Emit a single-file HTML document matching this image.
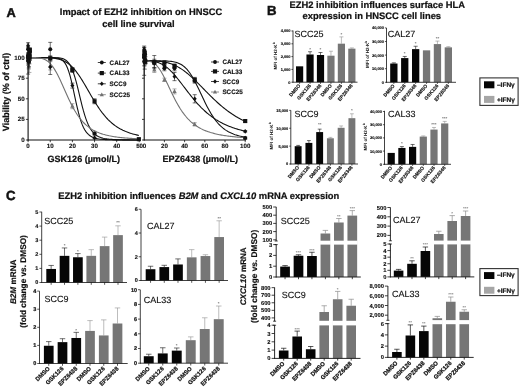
<!DOCTYPE html>
<html><head><meta charset="utf-8"><title>Figure</title>
<style>
html,body{margin:0;padding:0;background:#fff;}
body{width:520px;height:389px;overflow:hidden;}
svg{display:block;font-family:"Liberation Sans",Arial,sans-serif;text-rendering:geometricPrecision;}
</style></head><body>
<svg width="520" height="389" viewBox="0 0 520 389">
<rect width="520" height="389" fill="#fff"/>
<text x="6.60" y="17.30" font-size="12.8" text-anchor="start" font-weight="bold" fill="#111" stroke="#111" stroke-width="0.5">A</text>
<text x="59.80" y="15.30" font-size="9.35" text-anchor="start" font-weight="bold" fill="#111" stroke="#111" stroke-width="0.22">Impact of EZH2 inhibition on HNSCC</text>
<text x="102.30" y="26.60" font-size="9.35" text-anchor="start" font-weight="bold" fill="#111" stroke="#111" stroke-width="0.22">cell line survival</text>
<text transform="translate(9.40,92.00) rotate(-90)" font-size="9.0" text-anchor="middle" font-weight="bold" fill="#111" stroke="#111" stroke-width="0.22">Viability (% of ctrl)</text>
<polyline points="28.10,57.60 29.33,57.60 30.56,57.60 31.79,57.60 33.02,57.60 34.25,57.60 35.48,57.60 36.71,57.60 37.94,57.60 39.17,57.60 40.41,57.60 41.64,57.60 42.87,57.60 44.10,57.60 45.33,57.60 46.56,57.60 47.79,57.60 49.02,57.61 50.25,57.61 51.48,57.62 52.71,57.63 53.94,57.65 55.17,57.68 56.40,57.73 57.63,57.80 58.86,57.91 60.09,58.07 61.32,58.30 62.56,58.62 63.79,59.07 65.02,59.68 66.25,60.51 67.48,61.60 68.71,63.03 69.94,64.85 71.17,67.13 72.40,69.93 73.63,73.25 74.86,77.11 76.09,81.46 77.32,86.20 78.55,91.22 79.78,96.34 81.01,101.43 82.24,106.32 83.47,110.90 84.71,115.08 85.94,118.82 87.17,122.11 88.40,124.96 89.63,127.39 90.86,129.46 92.09,131.19 93.32,132.65 94.55,133.86 95.78,134.87 97.01,135.71 98.24,136.40 99.47,136.98 100.70,137.46 101.93,137.86 103.16,138.20 104.39,138.47 105.62,138.71 106.86,138.90 108.09,139.06 109.32,139.20 110.55,139.32 111.78,139.41 113.01,139.50 114.24,139.57 115.47,139.63 116.70,139.68 117.93,139.72 119.16,139.76 120.39,139.79 121.62,139.82 122.85,139.84 124.08,139.86 125.31,139.88 126.54,139.89 127.78,139.91 129.01,139.92 130.24,139.93 131.47,139.94 132.70,139.94 133.93,139.95 135.16,139.96 136.39,139.96 137.62,139.97 138.85,139.97" fill="none" stroke="#111" stroke-width="1.1"/>
<polyline points="28.10,57.60 29.33,57.60 30.56,57.60 31.79,57.60 33.02,57.60 34.25,57.60 35.48,57.60 36.71,57.60 37.94,57.60 39.17,57.61 40.41,57.61 41.64,57.62 42.87,57.63 44.10,57.65 45.33,57.67 46.56,57.71 47.79,57.75 49.02,57.80 50.25,57.88 51.48,57.97 52.71,58.08 53.94,58.22 55.17,58.39 56.40,58.60 57.63,58.85 58.86,59.15 60.09,59.50 61.32,59.90 62.56,60.38 63.79,60.92 65.02,61.54 66.25,62.25 67.48,63.05 68.71,63.94 69.94,64.93 71.17,66.02 72.40,67.22 73.63,68.52 74.86,69.93 76.09,71.45 77.32,73.06 78.55,74.77 79.78,76.57 81.01,78.46 82.24,80.41 83.47,82.43 84.71,84.49 85.94,86.60 87.17,88.73 88.40,90.87 89.63,93.01 90.86,95.15 92.09,97.26 93.32,99.34 94.55,101.37 95.78,103.36 97.01,105.29 98.24,107.16 99.47,108.97 100.70,110.70 101.93,112.36 103.16,113.94 104.39,115.45 105.62,116.89 106.86,118.25 108.09,119.54 109.32,120.76 110.55,121.91 111.78,122.99 113.01,124.02 114.24,124.97 115.47,125.88 116.70,126.72 117.93,127.52 119.16,128.26 120.39,128.96 121.62,129.61 122.85,130.23 124.08,130.80 125.31,131.34 126.54,131.84 127.78,132.31 129.01,132.75 130.24,133.17 131.47,133.56 132.70,133.92 133.93,134.26 135.16,134.58 136.39,134.88 137.62,135.16 138.85,135.42" fill="none" stroke="#111" stroke-width="1.1"/>
<polyline points="28.10,57.60 29.33,57.60 30.56,57.60 31.79,57.60 33.02,57.60 34.25,57.60 35.48,57.60 36.71,57.60 37.94,57.60 39.17,57.60 40.41,57.60 41.64,57.60 42.87,57.60 44.10,57.60 45.33,57.60 46.56,57.60 47.79,57.61 49.02,57.61 50.25,57.63 51.48,57.65 52.71,57.68 53.94,57.73 55.17,57.82 56.40,57.95 57.63,58.14 58.86,58.44 60.09,58.87 61.32,59.49 62.56,60.36 63.79,61.55 65.02,63.17 66.25,65.29 67.48,68.01 68.71,71.39 69.94,75.45 71.17,80.16 72.40,85.42 73.63,91.05 74.86,96.84 76.09,102.55 77.32,107.99 78.55,112.98 79.78,117.44 81.01,121.32 82.24,124.64 83.47,127.42 84.71,129.73 85.94,131.62 87.17,133.17 88.40,134.43 89.63,135.46 90.86,136.28 92.09,136.96 93.32,137.50 94.55,137.94 95.78,138.30 97.01,138.59 98.24,138.83 99.47,139.03 100.70,139.19 101.93,139.32 103.16,139.43 104.39,139.52 105.62,139.60 106.86,139.66 108.09,139.71 109.32,139.75 110.55,139.79 111.78,139.82 113.01,139.85 114.24,139.87 115.47,139.89 116.70,139.90 117.93,139.92 119.16,139.93 120.39,139.94 121.62,139.95 122.85,139.95 124.08,139.96 125.31,139.96 126.54,139.97 127.78,139.97 129.01,139.98 130.24,139.98 131.47,139.98 132.70,139.98 133.93,139.99 135.16,139.99 136.39,139.99 137.62,139.99 138.85,139.99" fill="none" stroke="#111" stroke-width="1.1"/>
<polyline points="28.10,57.60 29.33,57.60 30.56,57.60 31.79,57.60 33.02,57.61 34.25,57.63 35.48,57.66 36.71,57.72 37.94,57.82 39.17,57.95 40.41,58.15 41.64,58.41 42.87,58.77 44.10,59.23 45.33,59.81 46.56,60.52 47.79,61.39 49.02,62.42 50.25,63.63 51.48,65.03 52.71,66.62 53.94,68.41 55.17,70.38 56.40,72.53 57.63,74.84 58.86,77.29 60.09,79.86 61.32,82.53 62.56,85.26 63.79,88.03 65.02,90.81 66.25,93.58 67.48,96.30 68.71,98.96 69.94,101.54 71.17,104.02 72.40,106.40 73.63,108.66 74.86,110.81 76.09,112.83 77.32,114.73 78.55,116.51 79.78,118.17 81.01,119.72 82.24,121.16 83.47,122.50 84.71,123.73 85.94,124.88 87.17,125.94 88.40,126.92 89.63,127.83 90.86,128.67 92.09,129.44 93.32,130.16 94.55,130.82 95.78,131.43 97.01,131.99 98.24,132.51 99.47,133.00 100.70,133.44 101.93,133.86 103.16,134.24 104.39,134.59 105.62,134.92 106.86,135.23 108.09,135.51 109.32,135.78 110.55,136.02 111.78,136.25 113.01,136.47 114.24,136.67 115.47,136.85 116.70,137.02 117.93,137.19 119.16,137.34 120.39,137.48 121.62,137.61 122.85,137.74 124.08,137.85 125.31,137.96 126.54,138.06 127.78,138.16 129.01,138.25 130.24,138.34 131.47,138.42 132.70,138.49 133.93,138.56 135.16,138.63 136.39,138.69 137.62,138.75 138.85,138.81" fill="none" stroke="#727272" stroke-width="1.1"/>
<line x1="28.10" y1="55.13" x2="28.10" y2="63.37" stroke="#727272" stroke-width="0.6"/>
<line x1="26.10" y1="55.13" x2="30.10" y2="55.13" stroke="#727272" stroke-width="0.6"/>
<line x1="26.10" y1="63.37" x2="30.10" y2="63.37" stroke="#727272" stroke-width="0.6"/>
<polygon points="28.10,56.85 30.30,60.85 25.90,60.85" fill="#727272"/>
<line x1="29.43" y1="52.66" x2="29.43" y2="72.43" stroke="#727272" stroke-width="0.6"/>
<line x1="27.43" y1="52.66" x2="31.43" y2="52.66" stroke="#727272" stroke-width="0.6"/>
<line x1="27.43" y1="72.43" x2="31.43" y2="72.43" stroke="#727272" stroke-width="0.6"/>
<polygon points="29.43,60.14 31.63,64.14 27.23,64.14" fill="#727272"/>
<line x1="28.76" y1="54.30" x2="28.76" y2="69.14" stroke="#727272" stroke-width="0.6"/>
<line x1="26.76" y1="54.30" x2="30.76" y2="54.30" stroke="#727272" stroke-width="0.6"/>
<line x1="26.76" y1="69.14" x2="30.76" y2="69.14" stroke="#727272" stroke-width="0.6"/>
<polygon points="28.76,59.32 30.96,63.32 26.56,63.32" fill="#727272"/>
<line x1="50.25" y1="61.72" x2="50.25" y2="69.96" stroke="#727272" stroke-width="0.6"/>
<line x1="48.25" y1="61.72" x2="52.25" y2="61.72" stroke="#727272" stroke-width="0.6"/>
<line x1="48.25" y1="69.96" x2="52.25" y2="69.96" stroke="#727272" stroke-width="0.6"/>
<polygon points="50.25,63.44 52.45,67.44 48.05,67.44" fill="#727272"/>
<line x1="72.40" y1="103.74" x2="72.40" y2="108.69" stroke="#727272" stroke-width="0.6"/>
<line x1="70.40" y1="103.74" x2="74.40" y2="103.74" stroke="#727272" stroke-width="0.6"/>
<line x1="70.40" y1="108.69" x2="74.40" y2="108.69" stroke="#727272" stroke-width="0.6"/>
<polygon points="72.40,103.82 74.60,107.82 70.20,107.82" fill="#727272"/>
<line x1="94.55" y1="131.35" x2="94.55" y2="133.82" stroke="#727272" stroke-width="0.6"/>
<line x1="92.55" y1="131.35" x2="96.55" y2="131.35" stroke="#727272" stroke-width="0.6"/>
<line x1="92.55" y1="133.82" x2="96.55" y2="133.82" stroke="#727272" stroke-width="0.6"/>
<polygon points="94.55,130.18 96.75,134.18 92.35,134.18" fill="#727272"/>
<line x1="28.10" y1="45.24" x2="28.10" y2="53.48" stroke="#111" stroke-width="0.6"/>
<line x1="26.10" y1="45.24" x2="30.10" y2="45.24" stroke="#111" stroke-width="0.6"/>
<line x1="26.10" y1="53.48" x2="30.10" y2="53.48" stroke="#111" stroke-width="0.6"/>
<circle cx="28.10" cy="49.36" r="2.00" fill="#111"/>
<line x1="29.87" y1="48.54" x2="29.87" y2="55.13" stroke="#111" stroke-width="0.6"/>
<line x1="27.87" y1="48.54" x2="31.87" y2="48.54" stroke="#111" stroke-width="0.6"/>
<line x1="27.87" y1="55.13" x2="31.87" y2="55.13" stroke="#111" stroke-width="0.6"/>
<circle cx="29.87" cy="51.83" r="2.00" fill="#111"/>
<line x1="28.10" y1="52.66" x2="28.10" y2="57.60" stroke="#111" stroke-width="0.6"/>
<line x1="26.10" y1="52.66" x2="30.10" y2="52.66" stroke="#111" stroke-width="0.6"/>
<line x1="26.10" y1="57.60" x2="30.10" y2="57.60" stroke="#111" stroke-width="0.6"/>
<circle cx="28.10" cy="55.13" r="2.00" fill="#111"/>
<line x1="29.87" y1="55.54" x2="29.87" y2="60.48" stroke="#111" stroke-width="0.6"/>
<line x1="27.87" y1="55.54" x2="31.87" y2="55.54" stroke="#111" stroke-width="0.6"/>
<line x1="27.87" y1="60.48" x2="31.87" y2="60.48" stroke="#111" stroke-width="0.6"/>
<circle cx="29.87" cy="58.01" r="2.00" fill="#111"/>
<line x1="28.10" y1="56.78" x2="28.10" y2="65.02" stroke="#111" stroke-width="0.6"/>
<line x1="26.10" y1="56.78" x2="30.10" y2="56.78" stroke="#111" stroke-width="0.6"/>
<line x1="26.10" y1="65.02" x2="30.10" y2="65.02" stroke="#111" stroke-width="0.6"/>
<circle cx="28.10" cy="60.90" r="2.00" fill="#111"/>
<line x1="28.99" y1="56.78" x2="28.99" y2="66.66" stroke="#111" stroke-width="0.6"/>
<line x1="26.99" y1="56.78" x2="30.99" y2="56.78" stroke="#111" stroke-width="0.6"/>
<line x1="26.99" y1="66.66" x2="30.99" y2="66.66" stroke="#111" stroke-width="0.6"/>
<circle cx="28.99" cy="61.72" r="2.00" fill="#111"/>
<line x1="50.25" y1="42.36" x2="50.25" y2="56.36" stroke="#111" stroke-width="0.6"/>
<line x1="48.25" y1="42.36" x2="52.25" y2="42.36" stroke="#111" stroke-width="0.6"/>
<line x1="48.25" y1="56.36" x2="52.25" y2="56.36" stroke="#111" stroke-width="0.6"/>
<circle cx="50.25" cy="49.36" r="2.00" fill="#111"/>
<line x1="72.40" y1="67.49" x2="72.40" y2="72.43" stroke="#111" stroke-width="0.6"/>
<line x1="70.40" y1="67.49" x2="74.40" y2="67.49" stroke="#111" stroke-width="0.6"/>
<line x1="70.40" y1="72.43" x2="74.40" y2="72.43" stroke="#111" stroke-width="0.6"/>
<circle cx="72.40" cy="69.96" r="2.00" fill="#111"/>
<line x1="94.55" y1="132.58" x2="94.55" y2="135.06" stroke="#111" stroke-width="0.6"/>
<line x1="92.55" y1="132.58" x2="96.55" y2="132.58" stroke="#111" stroke-width="0.6"/>
<line x1="92.55" y1="135.06" x2="96.55" y2="135.06" stroke="#111" stroke-width="0.6"/>
<circle cx="94.55" cy="133.82" r="2.00" fill="#111"/>
<line x1="29.87" y1="47.71" x2="29.87" y2="52.66" stroke="#111" stroke-width="0.6"/>
<line x1="27.87" y1="47.71" x2="31.87" y2="47.71" stroke="#111" stroke-width="0.6"/>
<line x1="27.87" y1="52.66" x2="31.87" y2="52.66" stroke="#111" stroke-width="0.6"/>
<rect x="27.82" y="48.13" width="4.10" height="4.10" fill="#111"/>
<line x1="28.10" y1="55.13" x2="28.10" y2="60.07" stroke="#111" stroke-width="0.6"/>
<line x1="26.10" y1="55.13" x2="30.10" y2="55.13" stroke="#111" stroke-width="0.6"/>
<line x1="26.10" y1="60.07" x2="30.10" y2="60.07" stroke="#111" stroke-width="0.6"/>
<rect x="26.05" y="55.55" width="4.10" height="4.10" fill="#111"/>
<line x1="29.43" y1="51.83" x2="29.43" y2="56.78" stroke="#111" stroke-width="0.6"/>
<line x1="27.43" y1="51.83" x2="31.43" y2="51.83" stroke="#111" stroke-width="0.6"/>
<line x1="27.43" y1="56.78" x2="31.43" y2="56.78" stroke="#111" stroke-width="0.6"/>
<rect x="27.38" y="52.25" width="4.10" height="4.10" fill="#111"/>
<line x1="50.25" y1="55.95" x2="50.25" y2="60.90" stroke="#111" stroke-width="0.6"/>
<line x1="48.25" y1="55.95" x2="52.25" y2="55.95" stroke="#111" stroke-width="0.6"/>
<line x1="48.25" y1="60.90" x2="52.25" y2="60.90" stroke="#111" stroke-width="0.6"/>
<rect x="48.20" y="56.37" width="4.10" height="4.10" fill="#111"/>
<line x1="72.40" y1="68.31" x2="72.40" y2="71.61" stroke="#111" stroke-width="0.6"/>
<line x1="70.40" y1="68.31" x2="74.40" y2="68.31" stroke="#111" stroke-width="0.6"/>
<line x1="70.40" y1="71.61" x2="74.40" y2="71.61" stroke="#111" stroke-width="0.6"/>
<rect x="70.35" y="67.91" width="4.10" height="4.10" fill="#111"/>
<line x1="94.55" y1="98.80" x2="94.55" y2="103.74" stroke="#111" stroke-width="0.6"/>
<line x1="92.55" y1="98.80" x2="96.55" y2="98.80" stroke="#111" stroke-width="0.6"/>
<line x1="92.55" y1="103.74" x2="96.55" y2="103.74" stroke="#111" stroke-width="0.6"/>
<rect x="92.50" y="99.22" width="4.10" height="4.10" fill="#111"/>
<line x1="138.85" y1="138.35" x2="138.85" y2="140.00" stroke="#111" stroke-width="0.6"/>
<line x1="136.85" y1="138.35" x2="140.85" y2="138.35" stroke="#111" stroke-width="0.6"/>
<line x1="136.85" y1="140.00" x2="140.85" y2="140.00" stroke="#111" stroke-width="0.6"/>
<rect x="136.80" y="137.13" width="4.10" height="4.10" fill="#111"/>
<line x1="28.10" y1="42.77" x2="28.10" y2="49.36" stroke="#111" stroke-width="0.6"/>
<line x1="26.10" y1="42.77" x2="30.10" y2="42.77" stroke="#111" stroke-width="0.6"/>
<line x1="26.10" y1="49.36" x2="30.10" y2="49.36" stroke="#111" stroke-width="0.6"/>
<polygon points="28.10,43.66 30.10,46.06 28.10,48.46 26.10,46.06" fill="#111"/>
<line x1="29.87" y1="54.30" x2="29.87" y2="59.25" stroke="#111" stroke-width="0.6"/>
<line x1="27.87" y1="54.30" x2="31.87" y2="54.30" stroke="#111" stroke-width="0.6"/>
<line x1="27.87" y1="59.25" x2="31.87" y2="59.25" stroke="#111" stroke-width="0.6"/>
<polygon points="29.87,54.38 31.87,56.78 29.87,59.18 27.87,56.78" fill="#111"/>
<line x1="28.76" y1="54.72" x2="28.76" y2="67.90" stroke="#111" stroke-width="0.6"/>
<line x1="26.76" y1="54.72" x2="30.76" y2="54.72" stroke="#111" stroke-width="0.6"/>
<line x1="26.76" y1="67.90" x2="30.76" y2="67.90" stroke="#111" stroke-width="0.6"/>
<polygon points="28.76,58.91 30.76,61.31 28.76,63.71 26.76,61.31" fill="#111"/>
<line x1="28.10" y1="47.71" x2="28.10" y2="74.08" stroke="#111" stroke-width="0.6"/>
<line x1="26.10" y1="47.71" x2="30.10" y2="47.71" stroke="#111" stroke-width="0.6"/>
<line x1="26.10" y1="74.08" x2="30.10" y2="74.08" stroke="#111" stroke-width="0.6"/>
<polygon points="28.10,58.50 30.10,60.90 28.10,63.30 26.10,60.90" fill="#111"/>
<line x1="50.25" y1="59.66" x2="50.25" y2="74.49" stroke="#111" stroke-width="0.6"/>
<line x1="48.25" y1="59.66" x2="52.25" y2="59.66" stroke="#111" stroke-width="0.6"/>
<line x1="48.25" y1="74.49" x2="52.25" y2="74.49" stroke="#111" stroke-width="0.6"/>
<polygon points="50.25,64.68 52.25,67.08 50.25,69.48 48.25,67.08" fill="#111"/>
<line x1="72.40" y1="83.14" x2="72.40" y2="88.09" stroke="#111" stroke-width="0.6"/>
<line x1="70.40" y1="83.14" x2="74.40" y2="83.14" stroke="#111" stroke-width="0.6"/>
<line x1="70.40" y1="88.09" x2="74.40" y2="88.09" stroke="#111" stroke-width="0.6"/>
<polygon points="72.40,83.22 74.40,85.62 72.40,88.02 70.40,85.62" fill="#111"/>
<line x1="94.55" y1="137.12" x2="94.55" y2="138.76" stroke="#111" stroke-width="0.6"/>
<line x1="92.55" y1="137.12" x2="96.55" y2="137.12" stroke="#111" stroke-width="0.6"/>
<line x1="92.55" y1="138.76" x2="96.55" y2="138.76" stroke="#111" stroke-width="0.6"/>
<polygon points="94.55,135.54 96.55,137.94 94.55,140.34 92.55,137.94" fill="#111"/>
<line x1="28.10" y1="42.50" x2="28.10" y2="140.50" stroke="#111" stroke-width="1.1"/>
<line x1="27.60" y1="140.00" x2="140.00" y2="140.00" stroke="#111" stroke-width="1.1"/>
<line x1="25.90" y1="140.00" x2="28.10" y2="140.00" stroke="#111" stroke-width="0.8"/>
<text x="24.60" y="142.00" font-size="6.2" text-anchor="end" font-weight="bold" fill="#111" stroke="#111" stroke-width="0.12">0</text>
<line x1="25.90" y1="119.40" x2="28.10" y2="119.40" stroke="#111" stroke-width="0.8"/>
<text x="24.60" y="121.40" font-size="6.2" text-anchor="end" font-weight="bold" fill="#111" stroke="#111" stroke-width="0.12">25</text>
<line x1="25.90" y1="98.80" x2="28.10" y2="98.80" stroke="#111" stroke-width="0.8"/>
<text x="24.60" y="100.80" font-size="6.2" text-anchor="end" font-weight="bold" fill="#111" stroke="#111" stroke-width="0.12">50</text>
<line x1="25.90" y1="78.20" x2="28.10" y2="78.20" stroke="#111" stroke-width="0.8"/>
<text x="24.60" y="80.20" font-size="6.2" text-anchor="end" font-weight="bold" fill="#111" stroke="#111" stroke-width="0.12">75</text>
<line x1="25.90" y1="57.60" x2="28.10" y2="57.60" stroke="#111" stroke-width="0.8"/>
<text x="24.60" y="59.60" font-size="6.2" text-anchor="end" font-weight="bold" fill="#111" stroke="#111" stroke-width="0.12">100</text>
<line x1="28.10" y1="140.00" x2="28.10" y2="142.20" stroke="#111" stroke-width="0.8"/>
<text x="28.10" y="148.30" font-size="6.2" text-anchor="middle" font-weight="bold" fill="#111" stroke="#111" stroke-width="0.12">0</text>
<line x1="50.25" y1="140.00" x2="50.25" y2="142.20" stroke="#111" stroke-width="0.8"/>
<text x="50.25" y="148.30" font-size="6.2" text-anchor="middle" font-weight="bold" fill="#111" stroke="#111" stroke-width="0.12">10</text>
<line x1="72.40" y1="140.00" x2="72.40" y2="142.20" stroke="#111" stroke-width="0.8"/>
<text x="72.40" y="148.30" font-size="6.2" text-anchor="middle" font-weight="bold" fill="#111" stroke="#111" stroke-width="0.12">20</text>
<line x1="94.55" y1="140.00" x2="94.55" y2="142.20" stroke="#111" stroke-width="0.8"/>
<text x="94.55" y="148.30" font-size="6.2" text-anchor="middle" font-weight="bold" fill="#111" stroke="#111" stroke-width="0.12">30</text>
<line x1="116.70" y1="140.00" x2="116.70" y2="142.20" stroke="#111" stroke-width="0.8"/>
<text x="116.70" y="148.30" font-size="6.2" text-anchor="middle" font-weight="bold" fill="#111" stroke="#111" stroke-width="0.12">40</text>
<text x="139.60" y="148.30" font-size="6.2" text-anchor="middle" font-weight="bold" fill="#111" stroke="#111" stroke-width="0.12">50</text>
<line x1="139.20" y1="140.00" x2="139.20" y2="142.20" stroke="#111" stroke-width="0.8"/>
<text x="83.75" y="161.80" font-size="9.04" text-anchor="middle" font-weight="bold" fill="#111" stroke="#111" stroke-width="0.22">GSK126 (µmol/L)</text>
<polyline points="144.20,60.90 145.32,60.90 146.44,60.90 147.57,60.90 148.69,60.90 149.81,60.90 150.93,60.90 152.06,60.90 153.18,60.90 154.30,60.90 155.42,60.90 156.54,60.90 157.67,60.90 158.79,60.91 159.91,60.91 161.03,60.92 162.16,60.94 163.28,60.95 164.40,60.98 165.52,61.01 166.64,61.06 167.77,61.12 168.89,61.19 170.01,61.29 171.13,61.41 172.26,61.56 173.38,61.74 174.50,61.96 175.62,62.23 176.74,62.56 177.87,62.94 178.99,63.40 180.11,63.93 181.23,64.55 182.36,65.26 183.48,66.08 184.60,67.01 185.72,68.05 186.84,69.22 187.97,70.52 189.09,71.96 190.21,73.52 191.33,75.22 192.46,77.04 193.58,78.98 194.70,81.03 195.82,83.18 196.94,85.41 198.07,87.71 199.19,90.05 200.31,92.43 201.43,94.83 202.56,97.22 203.68,99.58 204.80,101.91 205.92,104.18 207.04,106.40 208.17,108.53 209.29,110.58 210.41,112.54 211.53,114.41 212.66,116.18 213.78,117.85 214.90,119.42 216.02,120.89 217.14,122.27 218.27,123.56 219.39,124.76 220.51,125.88 221.63,126.91 222.76,127.87 223.88,128.76 225.00,129.58 226.12,130.35 227.24,131.05 228.37,131.70 229.49,132.30 230.61,132.85 231.73,133.36 232.86,133.84 233.98,134.27 235.10,134.67 236.22,135.04 237.34,135.39 238.47,135.70 239.59,136.00 240.71,136.27 241.83,136.52 242.96,136.75 244.08,136.97 245.20,137.16" fill="none" stroke="#111" stroke-width="1.1"/>
<polyline points="144.20,60.90 145.32,60.90 146.44,60.90 147.57,60.90 148.69,60.90 149.81,60.91 150.93,60.92 152.06,60.94 153.18,60.97 154.30,61.01 155.42,61.06 156.54,61.12 157.67,61.19 158.79,61.28 159.91,61.39 161.03,61.52 162.16,61.67 163.28,61.84 164.40,62.04 165.52,62.26 166.64,62.51 167.77,62.79 168.89,63.11 170.01,63.45 171.13,63.83 172.26,64.24 173.38,64.69 174.50,65.18 175.62,65.70 176.74,66.26 177.87,66.86 178.99,67.49 180.11,68.17 181.23,68.88 182.36,69.63 183.48,70.41 184.60,71.24 185.72,72.09 186.84,72.98 187.97,73.90 189.09,74.85 190.21,75.83 191.33,76.84 192.46,77.87 193.58,78.92 194.70,79.99 195.82,81.08 196.94,82.19 198.07,83.31 199.19,84.44 200.31,85.57 201.43,86.72 202.56,87.87 203.68,89.01 204.80,90.16 205.92,91.31 207.04,92.45 208.17,93.58 209.29,94.71 210.41,95.83 211.53,96.93 212.66,98.02 213.78,99.10 214.90,100.16 216.02,101.21 217.14,102.24 218.27,103.25 219.39,104.24 220.51,105.22 221.63,106.17 222.76,107.10 223.88,108.01 225.00,108.90 226.12,109.77 227.24,110.62 228.37,111.45 229.49,112.26 230.61,113.04 231.73,113.81 232.86,114.55 233.98,115.28 235.10,115.98 236.22,116.67 237.34,117.33 238.47,117.97 239.59,118.60 240.71,119.21 241.83,119.80 242.96,120.37 244.08,120.93 245.20,121.46" fill="none" stroke="#111" stroke-width="1.1"/>
<polyline points="144.20,60.90 145.32,60.90 146.44,60.90 147.57,60.92 148.69,60.95 149.81,61.00 150.93,61.08 152.06,61.19 153.18,61.34 154.30,61.52 155.42,61.75 156.54,62.03 157.67,62.37 158.79,62.76 159.91,63.21 161.03,63.72 162.16,64.30 163.28,64.94 164.40,65.65 165.52,66.43 166.64,67.28 167.77,68.19 168.89,69.17 170.01,70.21 171.13,71.32 172.26,72.47 173.38,73.69 174.50,74.95 175.62,76.25 176.74,77.60 177.87,78.98 178.99,80.39 180.11,81.82 181.23,83.27 182.36,84.73 183.48,86.21 184.60,87.68 185.72,89.16 186.84,90.63 187.97,92.09 189.09,93.53 190.21,94.96 191.33,96.37 192.46,97.75 193.58,99.12 194.70,100.45 195.82,101.75 196.94,103.02 198.07,104.27 199.19,105.47 200.31,106.65 201.43,107.79 202.56,108.89 203.68,109.97 204.80,111.00 205.92,112.01 207.04,112.98 208.17,113.91 209.29,114.82 210.41,115.69 211.53,116.53 212.66,117.34 213.78,118.12 214.90,118.87 216.02,119.60 217.14,120.29 218.27,120.96 219.39,121.61 220.51,122.23 221.63,122.82 222.76,123.40 223.88,123.95 225.00,124.48 226.12,124.99 227.24,125.48 228.37,125.95 229.49,126.40 230.61,126.84 231.73,127.26 232.86,127.66 233.98,128.05 235.10,128.42 236.22,128.78 237.34,129.13 238.47,129.46 239.59,129.78 240.71,130.09 241.83,130.38 242.96,130.67 244.08,130.95 245.20,131.21" fill="none" stroke="#111" stroke-width="1.1"/>
<polyline points="144.20,60.90 145.32,60.90 146.44,60.93 147.57,60.99 148.69,61.13 149.81,61.35 150.93,61.68 152.06,62.13 153.18,62.72 154.30,63.47 155.42,64.38 156.54,65.46 157.67,66.73 158.79,68.16 159.91,69.77 161.03,71.54 162.16,73.45 163.28,75.49 164.40,77.64 165.52,79.88 166.64,82.19 167.77,84.54 168.89,86.92 170.01,89.30 171.13,91.66 172.26,93.99 173.38,96.28 174.50,98.50 175.62,100.66 176.74,102.74 177.87,104.74 178.99,106.65 180.11,108.47 181.23,110.20 182.36,111.85 183.48,113.40 184.60,114.87 185.72,116.26 186.84,117.57 187.97,118.80 189.09,119.96 190.21,121.05 191.33,122.07 192.46,123.03 193.58,123.93 194.70,124.78 195.82,125.57 196.94,126.32 198.07,127.02 199.19,127.67 200.31,128.29 201.43,128.87 202.56,129.42 203.68,129.93 204.80,130.41 205.92,130.87 207.04,131.29 208.17,131.70 209.29,132.08 210.41,132.44 211.53,132.77 212.66,133.09 213.78,133.39 214.90,133.68 216.02,133.95 217.14,134.20 218.27,134.44 219.39,134.67 220.51,134.89 221.63,135.09 222.76,135.29 223.88,135.47 225.00,135.65 226.12,135.82 227.24,135.98 228.37,136.13 229.49,136.27 230.61,136.41 231.73,136.54 232.86,136.66 233.98,136.78 235.10,136.89 236.22,137.00 237.34,137.11 238.47,137.20 239.59,137.30 240.71,137.39 241.83,137.47 242.96,137.56 244.08,137.64 245.20,137.71" fill="none" stroke="#727272" stroke-width="1.1"/>
<line x1="144.20" y1="55.95" x2="144.20" y2="65.84" stroke="#727272" stroke-width="0.6"/>
<line x1="142.20" y1="55.95" x2="146.20" y2="55.95" stroke="#727272" stroke-width="0.6"/>
<line x1="142.20" y1="65.84" x2="146.20" y2="65.84" stroke="#727272" stroke-width="0.6"/>
<polygon points="144.20,58.50 146.40,62.50 142.00,62.50" fill="#727272"/>
<line x1="144.91" y1="55.95" x2="144.91" y2="69.14" stroke="#727272" stroke-width="0.6"/>
<line x1="142.91" y1="55.95" x2="146.91" y2="55.95" stroke="#727272" stroke-width="0.6"/>
<line x1="142.91" y1="69.14" x2="146.91" y2="69.14" stroke="#727272" stroke-width="0.6"/>
<polygon points="144.91,60.14 147.11,64.14 142.71,64.14" fill="#727272"/>
<line x1="144.50" y1="54.30" x2="144.50" y2="69.14" stroke="#727272" stroke-width="0.6"/>
<line x1="142.50" y1="54.30" x2="146.50" y2="54.30" stroke="#727272" stroke-width="0.6"/>
<line x1="142.50" y1="69.14" x2="146.50" y2="69.14" stroke="#727272" stroke-width="0.6"/>
<polygon points="144.50,59.32 146.70,63.32 142.30,63.32" fill="#727272"/>
<line x1="154.30" y1="67.49" x2="154.30" y2="72.43" stroke="#727272" stroke-width="0.6"/>
<line x1="152.30" y1="67.49" x2="156.30" y2="67.49" stroke="#727272" stroke-width="0.6"/>
<line x1="152.30" y1="72.43" x2="156.30" y2="72.43" stroke="#727272" stroke-width="0.6"/>
<polygon points="154.30,67.56 156.50,71.56 152.10,71.56" fill="#727272"/>
<line x1="164.40" y1="78.20" x2="164.40" y2="81.50" stroke="#727272" stroke-width="0.6"/>
<line x1="162.40" y1="78.20" x2="166.40" y2="78.20" stroke="#727272" stroke-width="0.6"/>
<line x1="162.40" y1="81.50" x2="166.40" y2="81.50" stroke="#727272" stroke-width="0.6"/>
<polygon points="164.40,77.45 166.60,81.45 162.20,81.45" fill="#727272"/>
<line x1="174.50" y1="88.91" x2="174.50" y2="93.86" stroke="#727272" stroke-width="0.6"/>
<line x1="172.50" y1="88.91" x2="176.50" y2="88.91" stroke="#727272" stroke-width="0.6"/>
<line x1="172.50" y1="93.86" x2="176.50" y2="93.86" stroke="#727272" stroke-width="0.6"/>
<polygon points="174.50,88.98 176.70,92.98 172.30,92.98" fill="#727272"/>
<line x1="194.70" y1="122.70" x2="194.70" y2="125.99" stroke="#727272" stroke-width="0.6"/>
<line x1="192.70" y1="122.70" x2="196.70" y2="122.70" stroke="#727272" stroke-width="0.6"/>
<line x1="192.70" y1="125.99" x2="196.70" y2="125.99" stroke="#727272" stroke-width="0.6"/>
<polygon points="194.70,121.94 196.90,125.94 192.50,125.94" fill="#727272"/>
<line x1="245.20" y1="137.12" x2="245.20" y2="138.76" stroke="#727272" stroke-width="0.6"/>
<line x1="243.20" y1="137.12" x2="247.20" y2="137.12" stroke="#727272" stroke-width="0.6"/>
<line x1="243.20" y1="138.76" x2="247.20" y2="138.76" stroke="#727272" stroke-width="0.6"/>
<polygon points="245.20,135.54 247.40,139.54 243.00,139.54" fill="#727272"/>
<line x1="144.20" y1="47.71" x2="144.20" y2="54.30" stroke="#111" stroke-width="0.6"/>
<line x1="142.20" y1="47.71" x2="146.20" y2="47.71" stroke="#111" stroke-width="0.6"/>
<line x1="142.20" y1="54.30" x2="146.20" y2="54.30" stroke="#111" stroke-width="0.6"/>
<circle cx="144.20" cy="51.01" r="2.00" fill="#111"/>
<line x1="145.01" y1="51.83" x2="145.01" y2="56.78" stroke="#111" stroke-width="0.6"/>
<line x1="143.01" y1="51.83" x2="147.01" y2="51.83" stroke="#111" stroke-width="0.6"/>
<line x1="143.01" y1="56.78" x2="147.01" y2="56.78" stroke="#111" stroke-width="0.6"/>
<circle cx="145.01" cy="54.30" r="2.00" fill="#111"/>
<line x1="144.20" y1="55.13" x2="144.20" y2="60.07" stroke="#111" stroke-width="0.6"/>
<line x1="142.20" y1="55.13" x2="146.20" y2="55.13" stroke="#111" stroke-width="0.6"/>
<line x1="142.20" y1="60.07" x2="146.20" y2="60.07" stroke="#111" stroke-width="0.6"/>
<circle cx="144.20" cy="57.60" r="2.00" fill="#111"/>
<line x1="145.41" y1="56.78" x2="145.41" y2="63.37" stroke="#111" stroke-width="0.6"/>
<line x1="143.41" y1="56.78" x2="147.41" y2="56.78" stroke="#111" stroke-width="0.6"/>
<line x1="143.41" y1="63.37" x2="147.41" y2="63.37" stroke="#111" stroke-width="0.6"/>
<circle cx="145.41" cy="60.07" r="2.00" fill="#111"/>
<line x1="144.50" y1="57.60" x2="144.50" y2="65.84" stroke="#111" stroke-width="0.6"/>
<line x1="142.50" y1="57.60" x2="146.50" y2="57.60" stroke="#111" stroke-width="0.6"/>
<line x1="142.50" y1="65.84" x2="146.50" y2="65.84" stroke="#111" stroke-width="0.6"/>
<circle cx="144.50" cy="61.72" r="2.00" fill="#111"/>
<line x1="154.30" y1="55.54" x2="154.30" y2="68.72" stroke="#111" stroke-width="0.6"/>
<line x1="152.30" y1="55.54" x2="156.30" y2="55.54" stroke="#111" stroke-width="0.6"/>
<line x1="152.30" y1="68.72" x2="156.30" y2="68.72" stroke="#111" stroke-width="0.6"/>
<circle cx="154.30" cy="62.13" r="2.00" fill="#111"/>
<line x1="164.40" y1="65.84" x2="164.40" y2="70.78" stroke="#111" stroke-width="0.6"/>
<line x1="162.40" y1="65.84" x2="166.40" y2="65.84" stroke="#111" stroke-width="0.6"/>
<line x1="162.40" y1="70.78" x2="166.40" y2="70.78" stroke="#111" stroke-width="0.6"/>
<circle cx="164.40" cy="68.31" r="2.00" fill="#111"/>
<line x1="174.50" y1="65.84" x2="174.50" y2="70.78" stroke="#111" stroke-width="0.6"/>
<line x1="172.50" y1="65.84" x2="176.50" y2="65.84" stroke="#111" stroke-width="0.6"/>
<line x1="172.50" y1="70.78" x2="176.50" y2="70.78" stroke="#111" stroke-width="0.6"/>
<circle cx="174.50" cy="68.31" r="2.00" fill="#111"/>
<line x1="194.70" y1="78.20" x2="194.70" y2="83.14" stroke="#111" stroke-width="0.6"/>
<line x1="192.70" y1="78.20" x2="196.70" y2="78.20" stroke="#111" stroke-width="0.6"/>
<line x1="192.70" y1="83.14" x2="196.70" y2="83.14" stroke="#111" stroke-width="0.6"/>
<circle cx="194.70" cy="80.67" r="2.00" fill="#111"/>
<line x1="245.20" y1="137.12" x2="245.20" y2="138.76" stroke="#111" stroke-width="0.6"/>
<line x1="243.20" y1="137.12" x2="247.20" y2="137.12" stroke="#111" stroke-width="0.6"/>
<line x1="243.20" y1="138.76" x2="247.20" y2="138.76" stroke="#111" stroke-width="0.6"/>
<circle cx="245.20" cy="137.94" r="2.00" fill="#111"/>
<line x1="144.70" y1="50.18" x2="144.70" y2="55.13" stroke="#111" stroke-width="0.6"/>
<line x1="142.70" y1="50.18" x2="146.70" y2="50.18" stroke="#111" stroke-width="0.6"/>
<line x1="142.70" y1="55.13" x2="146.70" y2="55.13" stroke="#111" stroke-width="0.6"/>
<rect x="142.65" y="50.61" width="4.10" height="4.10" fill="#111"/>
<line x1="144.20" y1="53.48" x2="144.20" y2="58.42" stroke="#111" stroke-width="0.6"/>
<line x1="142.20" y1="53.48" x2="146.20" y2="53.48" stroke="#111" stroke-width="0.6"/>
<line x1="142.20" y1="58.42" x2="146.20" y2="58.42" stroke="#111" stroke-width="0.6"/>
<rect x="142.15" y="53.90" width="4.10" height="4.10" fill="#111"/>
<line x1="145.21" y1="59.25" x2="145.21" y2="64.19" stroke="#111" stroke-width="0.6"/>
<line x1="143.21" y1="59.25" x2="147.21" y2="59.25" stroke="#111" stroke-width="0.6"/>
<line x1="143.21" y1="64.19" x2="147.21" y2="64.19" stroke="#111" stroke-width="0.6"/>
<rect x="143.16" y="59.67" width="4.10" height="4.10" fill="#111"/>
<line x1="154.30" y1="60.90" x2="154.30" y2="64.19" stroke="#111" stroke-width="0.6"/>
<line x1="152.30" y1="60.90" x2="156.30" y2="60.90" stroke="#111" stroke-width="0.6"/>
<line x1="152.30" y1="64.19" x2="156.30" y2="64.19" stroke="#111" stroke-width="0.6"/>
<rect x="152.25" y="60.49" width="4.10" height="4.10" fill="#111"/>
<line x1="164.40" y1="60.90" x2="164.40" y2="64.19" stroke="#111" stroke-width="0.6"/>
<line x1="162.40" y1="60.90" x2="166.40" y2="60.90" stroke="#111" stroke-width="0.6"/>
<line x1="162.40" y1="64.19" x2="166.40" y2="64.19" stroke="#111" stroke-width="0.6"/>
<rect x="162.35" y="60.49" width="4.10" height="4.10" fill="#111"/>
<line x1="174.50" y1="64.19" x2="174.50" y2="67.49" stroke="#111" stroke-width="0.6"/>
<line x1="172.50" y1="64.19" x2="176.50" y2="64.19" stroke="#111" stroke-width="0.6"/>
<line x1="172.50" y1="67.49" x2="176.50" y2="67.49" stroke="#111" stroke-width="0.6"/>
<rect x="172.45" y="63.79" width="4.10" height="4.10" fill="#111"/>
<line x1="194.70" y1="77.38" x2="194.70" y2="82.32" stroke="#111" stroke-width="0.6"/>
<line x1="192.70" y1="77.38" x2="196.70" y2="77.38" stroke="#111" stroke-width="0.6"/>
<line x1="192.70" y1="82.32" x2="196.70" y2="82.32" stroke="#111" stroke-width="0.6"/>
<rect x="192.65" y="77.80" width="4.10" height="4.10" fill="#111"/>
<line x1="245.20" y1="119.81" x2="245.20" y2="122.28" stroke="#111" stroke-width="0.6"/>
<line x1="243.20" y1="119.81" x2="247.20" y2="119.81" stroke="#111" stroke-width="0.6"/>
<line x1="243.20" y1="122.28" x2="247.20" y2="122.28" stroke="#111" stroke-width="0.6"/>
<rect x="243.15" y="119.00" width="4.10" height="4.10" fill="#111"/>
<line x1="144.20" y1="46.06" x2="144.20" y2="52.66" stroke="#111" stroke-width="0.6"/>
<line x1="142.20" y1="46.06" x2="146.20" y2="46.06" stroke="#111" stroke-width="0.6"/>
<line x1="142.20" y1="52.66" x2="146.20" y2="52.66" stroke="#111" stroke-width="0.6"/>
<polygon points="144.20,46.96 146.20,49.36 144.20,51.76 142.20,49.36" fill="#111"/>
<line x1="144.81" y1="55.95" x2="144.81" y2="60.90" stroke="#111" stroke-width="0.6"/>
<line x1="142.81" y1="55.95" x2="146.81" y2="55.95" stroke="#111" stroke-width="0.6"/>
<line x1="142.81" y1="60.90" x2="146.81" y2="60.90" stroke="#111" stroke-width="0.6"/>
<polygon points="144.81,56.02 146.81,58.42 144.81,60.82 142.81,58.42" fill="#111"/>
<line x1="144.20" y1="47.30" x2="144.20" y2="75.32" stroke="#111" stroke-width="0.6"/>
<line x1="142.20" y1="47.30" x2="146.20" y2="47.30" stroke="#111" stroke-width="0.6"/>
<line x1="142.20" y1="75.32" x2="146.20" y2="75.32" stroke="#111" stroke-width="0.6"/>
<polygon points="144.20,58.91 146.20,61.31 144.20,63.71 142.20,61.31" fill="#111"/>
<line x1="154.30" y1="59.25" x2="154.30" y2="67.49" stroke="#111" stroke-width="0.6"/>
<line x1="152.30" y1="59.25" x2="156.30" y2="59.25" stroke="#111" stroke-width="0.6"/>
<line x1="152.30" y1="67.49" x2="156.30" y2="67.49" stroke="#111" stroke-width="0.6"/>
<polygon points="154.30,60.97 156.30,63.37 154.30,65.77 152.30,63.37" fill="#111"/>
<line x1="164.40" y1="63.37" x2="164.40" y2="68.31" stroke="#111" stroke-width="0.6"/>
<line x1="162.40" y1="63.37" x2="166.40" y2="63.37" stroke="#111" stroke-width="0.6"/>
<line x1="162.40" y1="68.31" x2="166.40" y2="68.31" stroke="#111" stroke-width="0.6"/>
<polygon points="164.40,63.44 166.40,65.84 164.40,68.24 162.40,65.84" fill="#111"/>
<line x1="174.50" y1="72.43" x2="174.50" y2="80.67" stroke="#111" stroke-width="0.6"/>
<line x1="172.50" y1="72.43" x2="176.50" y2="72.43" stroke="#111" stroke-width="0.6"/>
<line x1="172.50" y1="80.67" x2="176.50" y2="80.67" stroke="#111" stroke-width="0.6"/>
<polygon points="174.50,74.15 176.50,76.55 174.50,78.95 172.50,76.55" fill="#111"/>
<line x1="194.70" y1="94.68" x2="194.70" y2="102.92" stroke="#111" stroke-width="0.6"/>
<line x1="192.70" y1="94.68" x2="196.70" y2="94.68" stroke="#111" stroke-width="0.6"/>
<line x1="192.70" y1="102.92" x2="196.70" y2="102.92" stroke="#111" stroke-width="0.6"/>
<polygon points="194.70,96.40 196.70,98.80 194.70,101.20 192.70,98.80" fill="#111"/>
<line x1="245.20" y1="130.52" x2="245.20" y2="132.17" stroke="#111" stroke-width="0.6"/>
<line x1="243.20" y1="130.52" x2="247.20" y2="130.52" stroke="#111" stroke-width="0.6"/>
<line x1="243.20" y1="132.17" x2="247.20" y2="132.17" stroke="#111" stroke-width="0.6"/>
<polygon points="245.20,128.95 247.20,131.35 245.20,133.75 243.20,131.35" fill="#111"/>
<line x1="144.20" y1="46.50" x2="144.20" y2="140.50" stroke="#111" stroke-width="1.1"/>
<line x1="143.70" y1="140.00" x2="246.00" y2="140.00" stroke="#111" stroke-width="1.1"/>
<line x1="142.00" y1="140.00" x2="144.20" y2="140.00" stroke="#111" stroke-width="0.8"/>
<line x1="142.00" y1="119.40" x2="144.20" y2="119.40" stroke="#111" stroke-width="0.8"/>
<line x1="142.00" y1="98.80" x2="144.20" y2="98.80" stroke="#111" stroke-width="0.8"/>
<line x1="142.00" y1="78.20" x2="144.20" y2="78.20" stroke="#111" stroke-width="0.8"/>
<line x1="142.00" y1="57.60" x2="144.20" y2="57.60" stroke="#111" stroke-width="0.8"/>
<line x1="164.40" y1="140.00" x2="164.40" y2="142.20" stroke="#111" stroke-width="0.8"/>
<text x="164.40" y="148.30" font-size="6.2" text-anchor="middle" font-weight="bold" fill="#111" stroke="#111" stroke-width="0.12">20</text>
<line x1="184.60" y1="140.00" x2="184.60" y2="142.20" stroke="#111" stroke-width="0.8"/>
<text x="184.60" y="148.30" font-size="6.2" text-anchor="middle" font-weight="bold" fill="#111" stroke="#111" stroke-width="0.12">40</text>
<line x1="204.80" y1="140.00" x2="204.80" y2="142.20" stroke="#111" stroke-width="0.8"/>
<text x="204.80" y="148.30" font-size="6.2" text-anchor="middle" font-weight="bold" fill="#111" stroke="#111" stroke-width="0.12">60</text>
<line x1="225.00" y1="140.00" x2="225.00" y2="142.20" stroke="#111" stroke-width="0.8"/>
<text x="225.00" y="148.30" font-size="6.2" text-anchor="middle" font-weight="bold" fill="#111" stroke="#111" stroke-width="0.12">80</text>
<line x1="245.20" y1="140.00" x2="245.20" y2="142.20" stroke="#111" stroke-width="0.8"/>
<text x="245.20" y="148.30" font-size="6.2" text-anchor="middle" font-weight="bold" fill="#111" stroke="#111" stroke-width="0.12">100</text>
<text x="144.60" y="148.30" font-size="6.2" text-anchor="middle" font-weight="bold" fill="#111" stroke="#111" stroke-width="0.12">0</text>
<text x="200.25" y="161.80" font-size="9.04" text-anchor="middle" font-weight="bold" fill="#111" stroke="#111" stroke-width="0.22">EPZ6438 (µmol/L)</text>
<line x1="97.80" y1="62.50" x2="105.80" y2="62.50" stroke="#111" stroke-width="0.8"/>
<circle cx="101.80" cy="62.50" r="1.90" fill="#111"/>
<text x="109.60" y="64.70" font-size="6.3" text-anchor="start" font-weight="bold" fill="#111" stroke="#111" stroke-width="0.15">CAL27</text>
<line x1="97.80" y1="73.10" x2="105.80" y2="73.10" stroke="#111" stroke-width="0.8"/>
<rect x="99.70" y="71.00" width="4.20" height="4.20" fill="#111"/>
<text x="109.60" y="75.30" font-size="6.3" text-anchor="start" font-weight="bold" fill="#111" stroke="#111" stroke-width="0.15">CAL33</text>
<line x1="97.80" y1="83.80" x2="105.80" y2="83.80" stroke="#111" stroke-width="0.8"/>
<polygon points="101.80,81.52 103.70,83.80 101.80,86.08 99.90,83.80" fill="#111"/>
<text x="109.60" y="86.00" font-size="6.3" text-anchor="start" font-weight="bold" fill="#111" stroke="#111" stroke-width="0.15">SCC9</text>
<line x1="97.80" y1="94.70" x2="105.80" y2="94.70" stroke="#727272" stroke-width="0.8"/>
<polygon points="101.80,92.42 103.89,96.22 99.71,96.22" fill="#727272"/>
<text x="109.60" y="96.90" font-size="6.3" text-anchor="start" font-weight="bold" fill="#111" stroke="#111" stroke-width="0.15">SCC25</text>
<line x1="211.00" y1="62.00" x2="219.00" y2="62.00" stroke="#111" stroke-width="0.8"/>
<circle cx="215.00" cy="62.00" r="1.90" fill="#111"/>
<text x="222.40" y="64.20" font-size="6.3" text-anchor="start" font-weight="bold" fill="#111" stroke="#111" stroke-width="0.15">CAL27</text>
<line x1="211.00" y1="71.40" x2="219.00" y2="71.40" stroke="#111" stroke-width="0.8"/>
<rect x="212.90" y="69.30" width="4.20" height="4.20" fill="#111"/>
<text x="222.40" y="73.60" font-size="6.3" text-anchor="start" font-weight="bold" fill="#111" stroke="#111" stroke-width="0.15">CAL33</text>
<line x1="211.00" y1="81.50" x2="219.00" y2="81.50" stroke="#111" stroke-width="0.8"/>
<polygon points="215.00,79.22 216.90,81.50 215.00,83.78 213.10,81.50" fill="#111"/>
<text x="222.40" y="83.70" font-size="6.3" text-anchor="start" font-weight="bold" fill="#111" stroke="#111" stroke-width="0.15">SCC9</text>
<line x1="211.00" y1="92.00" x2="219.00" y2="92.00" stroke="#727272" stroke-width="0.8"/>
<polygon points="215.00,89.72 217.09,93.52 212.91,93.52" fill="#727272"/>
<text x="222.40" y="94.20" font-size="6.3" text-anchor="start" font-weight="bold" fill="#111" stroke="#111" stroke-width="0.15">SCC25</text>
<text x="267.10" y="15.10" font-size="13.2" text-anchor="start" font-weight="bold" fill="#111" stroke="#111" stroke-width="0.5">B</text>
<text x="289.50" y="8.00" font-size="9.38" text-anchor="start" font-weight="bold" fill="#111" stroke="#111" stroke-width="0.22">EZH2 inhibition influences surface HLA</text>
<text x="302.50" y="19.00" font-size="9.38" text-anchor="start" font-weight="bold" fill="#111" stroke="#111" stroke-width="0.22">expression in HNSCC cell lines</text>
<rect x="296.00" y="66.33" width="7.20" height="15.87" fill="#060606"/>
<line x1="310.05" y1="54.49" x2="310.05" y2="51.74" stroke="#111" stroke-width="0.6"/>
<line x1="308.03" y1="51.74" x2="312.07" y2="51.74" stroke="#111" stroke-width="0.6"/>
<rect x="306.45" y="54.49" width="7.20" height="27.71" fill="#060606"/>
<line x1="320.50" y1="55.00" x2="320.50" y2="52.50" stroke="#111" stroke-width="0.6"/>
<line x1="318.48" y1="52.50" x2="322.52" y2="52.50" stroke="#111" stroke-width="0.6"/>
<rect x="316.90" y="55.00" width="7.20" height="27.20" fill="#060606"/>
<line x1="330.95" y1="55.70" x2="330.95" y2="51.22" stroke="#909090" stroke-width="0.6"/>
<line x1="328.93" y1="51.22" x2="332.97" y2="51.22" stroke="#909090" stroke-width="0.6"/>
<rect x="327.35" y="55.70" width="7.20" height="26.50" fill="#767676"/>
<line x1="341.40" y1="43.67" x2="341.40" y2="36.89" stroke="#909090" stroke-width="0.6"/>
<line x1="339.38" y1="36.89" x2="343.42" y2="36.89" stroke="#909090" stroke-width="0.6"/>
<rect x="337.80" y="43.67" width="7.20" height="38.53" fill="#767676"/>
<line x1="351.85" y1="48.66" x2="351.85" y2="47.90" stroke="#909090" stroke-width="0.6"/>
<line x1="349.83" y1="47.90" x2="353.87" y2="47.90" stroke="#909090" stroke-width="0.6"/>
<rect x="348.25" y="48.66" width="7.20" height="33.54" fill="#767676"/>
<line x1="293.00" y1="30.50" x2="293.00" y2="82.60" stroke="#111" stroke-width="0.8"/>
<line x1="292.60" y1="82.20" x2="357.50" y2="82.20" stroke="#111" stroke-width="0.8"/>
<line x1="291.40" y1="82.20" x2="293.00" y2="82.20" stroke="#111" stroke-width="0.7"/>
<text x="290.40" y="83.60" font-size="3.9" text-anchor="end" font-weight="bold" fill="#111" stroke="#111" stroke-width="0.15">0</text>
<line x1="291.40" y1="69.40" x2="293.00" y2="69.40" stroke="#111" stroke-width="0.7"/>
<text x="290.40" y="70.80" font-size="3.9" text-anchor="end" font-weight="bold" fill="#111" stroke="#111" stroke-width="0.15">1,000</text>
<line x1="291.40" y1="56.60" x2="293.00" y2="56.60" stroke="#111" stroke-width="0.7"/>
<text x="290.40" y="58.00" font-size="3.9" text-anchor="end" font-weight="bold" fill="#111" stroke="#111" stroke-width="0.15">2,000</text>
<line x1="291.40" y1="43.80" x2="293.00" y2="43.80" stroke="#111" stroke-width="0.7"/>
<text x="290.40" y="45.20" font-size="3.9" text-anchor="end" font-weight="bold" fill="#111" stroke="#111" stroke-width="0.15">3,000</text>
<line x1="291.40" y1="31.00" x2="293.00" y2="31.00" stroke="#111" stroke-width="0.7"/>
<text x="290.40" y="32.40" font-size="3.9" text-anchor="end" font-weight="bold" fill="#111" stroke="#111" stroke-width="0.15">4,000</text>
<line x1="299.60" y1="82.20" x2="299.60" y2="83.80" stroke="#111" stroke-width="0.7"/>
<line x1="310.05" y1="82.20" x2="310.05" y2="83.80" stroke="#111" stroke-width="0.7"/>
<line x1="320.50" y1="82.20" x2="320.50" y2="83.80" stroke="#111" stroke-width="0.7"/>
<line x1="330.95" y1="82.20" x2="330.95" y2="83.80" stroke="#111" stroke-width="0.7"/>
<line x1="341.40" y1="82.20" x2="341.40" y2="83.80" stroke="#111" stroke-width="0.7"/>
<line x1="351.85" y1="82.20" x2="351.85" y2="83.80" stroke="#111" stroke-width="0.7"/>
<text x="294.40" y="37.00" font-size="9" text-anchor="start" fill="#111" stroke="#111" stroke-width="0.12">SCC25</text>
<text transform="translate(300.80,85.80) rotate(-50)" font-size="4.9" text-anchor="end" font-weight="bold" fill="#111" stroke="#111" stroke-width="0.15">DMSO</text>
<text transform="translate(311.25,85.80) rotate(-50)" font-size="4.9" text-anchor="end" font-weight="bold" fill="#111" stroke="#111" stroke-width="0.15">GSK126</text>
<text transform="translate(321.70,85.80) rotate(-50)" font-size="4.9" text-anchor="end" font-weight="bold" fill="#111" stroke="#111" stroke-width="0.15">EPZ6348</text>
<text transform="translate(332.15,85.80) rotate(-50)" font-size="4.9" text-anchor="end" font-weight="bold" fill="#111" stroke="#111" stroke-width="0.15">DMSO</text>
<text transform="translate(342.60,85.80) rotate(-50)" font-size="4.9" text-anchor="end" font-weight="bold" fill="#111" stroke="#111" stroke-width="0.15">GSK126</text>
<text transform="translate(353.05,85.80) rotate(-50)" font-size="4.9" text-anchor="end" font-weight="bold" fill="#111" stroke="#111" stroke-width="0.15">EPZ6348</text>
<text x="310.05" y="51.00" font-size="4.5" text-anchor="middle" font-weight="bold" fill="#777">*</text>
<text x="320.50" y="51.00" font-size="4.5" text-anchor="middle" font-weight="bold" fill="#777">*</text>
<text x="341.40" y="36.00" font-size="4.5" text-anchor="middle" font-weight="bold" fill="#777">*</text>
<text transform="translate(277.30,56.00) rotate(-90)" font-size="4.55" text-anchor="middle" font-weight="bold" fill="#111">MFI of H2-K<tspan baseline-shift="super" font-size="3.2">b</tspan></text>
<line x1="393.85" y1="63.53" x2="393.85" y2="62.85" stroke="#111" stroke-width="0.6"/>
<line x1="391.81" y1="62.85" x2="395.89" y2="62.85" stroke="#111" stroke-width="0.6"/>
<rect x="390.20" y="63.53" width="7.30" height="18.77" fill="#060606"/>
<line x1="404.75" y1="58.09" x2="404.75" y2="56.46" stroke="#111" stroke-width="0.6"/>
<line x1="402.71" y1="56.46" x2="406.79" y2="56.46" stroke="#111" stroke-width="0.6"/>
<rect x="401.10" y="58.09" width="7.30" height="24.21" fill="#060606"/>
<line x1="415.65" y1="49.12" x2="415.65" y2="46.26" stroke="#111" stroke-width="0.6"/>
<line x1="413.61" y1="46.26" x2="417.69" y2="46.26" stroke="#111" stroke-width="0.6"/>
<rect x="412.00" y="49.12" width="7.30" height="33.18" fill="#060606"/>
<rect x="422.90" y="50.34" width="7.30" height="31.96" fill="#767676"/>
<line x1="437.45" y1="44.08" x2="437.45" y2="41.09" stroke="#909090" stroke-width="0.6"/>
<line x1="435.41" y1="41.09" x2="439.49" y2="41.09" stroke="#909090" stroke-width="0.6"/>
<rect x="433.80" y="44.08" width="7.30" height="38.22" fill="#767676"/>
<line x1="448.35" y1="47.35" x2="448.35" y2="46.67" stroke="#909090" stroke-width="0.6"/>
<line x1="446.31" y1="46.67" x2="450.39" y2="46.67" stroke="#909090" stroke-width="0.6"/>
<rect x="444.70" y="47.35" width="7.30" height="34.95" fill="#767676"/>
<line x1="386.50" y1="28.00" x2="386.50" y2="82.70" stroke="#111" stroke-width="0.8"/>
<line x1="386.10" y1="82.30" x2="456.00" y2="82.30" stroke="#111" stroke-width="0.8"/>
<line x1="384.90" y1="82.30" x2="386.50" y2="82.30" stroke="#111" stroke-width="0.7"/>
<text x="383.90" y="83.70" font-size="3.9" text-anchor="end" font-weight="bold" fill="#111" stroke="#111" stroke-width="0.15">0</text>
<line x1="384.90" y1="68.70" x2="386.50" y2="68.70" stroke="#111" stroke-width="0.7"/>
<text x="383.90" y="70.10" font-size="3.9" text-anchor="end" font-weight="bold" fill="#111" stroke="#111" stroke-width="0.15">10,000</text>
<line x1="384.90" y1="55.10" x2="386.50" y2="55.10" stroke="#111" stroke-width="0.7"/>
<text x="383.90" y="56.50" font-size="3.9" text-anchor="end" font-weight="bold" fill="#111" stroke="#111" stroke-width="0.15">20,000</text>
<line x1="384.90" y1="41.50" x2="386.50" y2="41.50" stroke="#111" stroke-width="0.7"/>
<text x="383.90" y="42.90" font-size="3.9" text-anchor="end" font-weight="bold" fill="#111" stroke="#111" stroke-width="0.15">30,000</text>
<line x1="384.90" y1="27.90" x2="386.50" y2="27.90" stroke="#111" stroke-width="0.7"/>
<text x="383.90" y="29.30" font-size="3.9" text-anchor="end" font-weight="bold" fill="#111" stroke="#111" stroke-width="0.15">40,000</text>
<line x1="393.85" y1="82.30" x2="393.85" y2="83.90" stroke="#111" stroke-width="0.7"/>
<line x1="404.75" y1="82.30" x2="404.75" y2="83.90" stroke="#111" stroke-width="0.7"/>
<line x1="415.65" y1="82.30" x2="415.65" y2="83.90" stroke="#111" stroke-width="0.7"/>
<line x1="426.55" y1="82.30" x2="426.55" y2="83.90" stroke="#111" stroke-width="0.7"/>
<line x1="437.45" y1="82.30" x2="437.45" y2="83.90" stroke="#111" stroke-width="0.7"/>
<line x1="448.35" y1="82.30" x2="448.35" y2="83.90" stroke="#111" stroke-width="0.7"/>
<text x="387.70" y="37.00" font-size="9" text-anchor="start" fill="#111" stroke="#111" stroke-width="0.12">CAL27</text>
<text transform="translate(395.05,86.00) rotate(-50)" font-size="4.9" text-anchor="end" font-weight="bold" fill="#111" stroke="#111" stroke-width="0.15">DMSO</text>
<text transform="translate(405.95,86.00) rotate(-50)" font-size="4.9" text-anchor="end" font-weight="bold" fill="#111" stroke="#111" stroke-width="0.15">GSK126</text>
<text transform="translate(416.85,86.00) rotate(-50)" font-size="4.9" text-anchor="end" font-weight="bold" fill="#111" stroke="#111" stroke-width="0.15">EPZ6348</text>
<text transform="translate(427.75,86.00) rotate(-50)" font-size="4.9" text-anchor="end" font-weight="bold" fill="#111" stroke="#111" stroke-width="0.15">DMSO</text>
<text transform="translate(438.65,86.00) rotate(-50)" font-size="4.9" text-anchor="end" font-weight="bold" fill="#111" stroke="#111" stroke-width="0.15">GSK126</text>
<text transform="translate(449.55,86.00) rotate(-50)" font-size="4.9" text-anchor="end" font-weight="bold" fill="#111" stroke="#111" stroke-width="0.15">EPZ6348</text>
<text x="404.75" y="55.00" font-size="4.5" text-anchor="middle" font-weight="bold" fill="#777">*</text>
<text x="415.65" y="45.00" font-size="4.5" text-anchor="middle" font-weight="bold" fill="#777">*</text>
<text x="437.45" y="40.00" font-size="4.5" text-anchor="middle" font-weight="bold" fill="#777">**</text>
<text transform="translate(369.00,54.30) rotate(-90)" font-size="4.55" text-anchor="middle" font-weight="bold" fill="#111">MFI of H2-K<tspan baseline-shift="super" font-size="3.2">b</tspan></text>
<line x1="298.15" y1="146.20" x2="298.15" y2="145.42" stroke="#111" stroke-width="0.6"/>
<line x1="296.22" y1="145.42" x2="300.08" y2="145.42" stroke="#111" stroke-width="0.6"/>
<rect x="294.70" y="146.20" width="6.90" height="17.80" fill="#060606"/>
<line x1="308.90" y1="142.91" x2="308.90" y2="140.59" stroke="#111" stroke-width="0.6"/>
<line x1="306.97" y1="140.59" x2="310.83" y2="140.59" stroke="#111" stroke-width="0.6"/>
<rect x="305.45" y="142.91" width="6.90" height="21.09" fill="#060606"/>
<line x1="319.65" y1="132.08" x2="319.65" y2="129.15" stroke="#111" stroke-width="0.6"/>
<line x1="317.72" y1="129.15" x2="321.58" y2="129.15" stroke="#111" stroke-width="0.6"/>
<rect x="316.20" y="132.08" width="6.90" height="31.92" fill="#060606"/>
<line x1="330.40" y1="138.27" x2="330.40" y2="137.37" stroke="#909090" stroke-width="0.6"/>
<line x1="328.47" y1="137.37" x2="332.33" y2="137.37" stroke="#909090" stroke-width="0.6"/>
<rect x="326.95" y="138.27" width="6.90" height="25.73" fill="#767676"/>
<line x1="341.15" y1="127.80" x2="341.15" y2="125.94" stroke="#909090" stroke-width="0.6"/>
<line x1="339.22" y1="125.94" x2="343.08" y2="125.94" stroke="#909090" stroke-width="0.6"/>
<rect x="337.70" y="127.80" width="6.90" height="36.20" fill="#767676"/>
<line x1="351.90" y1="118.18" x2="351.90" y2="113.79" stroke="#909090" stroke-width="0.6"/>
<line x1="349.97" y1="113.79" x2="353.83" y2="113.79" stroke="#909090" stroke-width="0.6"/>
<rect x="348.45" y="118.18" width="6.90" height="45.82" fill="#767676"/>
<line x1="290.80" y1="110.30" x2="290.80" y2="164.40" stroke="#111" stroke-width="0.8"/>
<line x1="290.40" y1="164.00" x2="358.00" y2="164.00" stroke="#111" stroke-width="0.8"/>
<line x1="289.20" y1="164.00" x2="290.80" y2="164.00" stroke="#111" stroke-width="0.7"/>
<text x="288.20" y="165.40" font-size="3.9" text-anchor="end" font-weight="bold" fill="#111" stroke="#111" stroke-width="0.15">0</text>
<line x1="289.20" y1="146.13" x2="290.80" y2="146.13" stroke="#111" stroke-width="0.7"/>
<text x="288.20" y="147.53" font-size="3.9" text-anchor="end" font-weight="bold" fill="#111" stroke="#111" stroke-width="0.15">5,000</text>
<line x1="289.20" y1="128.26" x2="290.80" y2="128.26" stroke="#111" stroke-width="0.7"/>
<text x="288.20" y="129.66" font-size="3.9" text-anchor="end" font-weight="bold" fill="#111" stroke="#111" stroke-width="0.15">10,000</text>
<line x1="289.20" y1="110.39" x2="290.80" y2="110.39" stroke="#111" stroke-width="0.7"/>
<text x="288.20" y="111.79" font-size="3.9" text-anchor="end" font-weight="bold" fill="#111" stroke="#111" stroke-width="0.15">15,000</text>
<line x1="298.15" y1="164.00" x2="298.15" y2="165.60" stroke="#111" stroke-width="0.7"/>
<line x1="308.90" y1="164.00" x2="308.90" y2="165.60" stroke="#111" stroke-width="0.7"/>
<line x1="319.65" y1="164.00" x2="319.65" y2="165.60" stroke="#111" stroke-width="0.7"/>
<line x1="330.40" y1="164.00" x2="330.40" y2="165.60" stroke="#111" stroke-width="0.7"/>
<line x1="341.15" y1="164.00" x2="341.15" y2="165.60" stroke="#111" stroke-width="0.7"/>
<line x1="351.90" y1="164.00" x2="351.90" y2="165.60" stroke="#111" stroke-width="0.7"/>
<text x="294.60" y="117.00" font-size="9" text-anchor="start" fill="#111" stroke="#111" stroke-width="0.12">SCC9</text>
<text transform="translate(299.35,167.60) rotate(-50)" font-size="4.9" text-anchor="end" font-weight="bold" fill="#111" stroke="#111" stroke-width="0.15">DMSO</text>
<text transform="translate(310.10,167.60) rotate(-50)" font-size="4.9" text-anchor="end" font-weight="bold" fill="#111" stroke="#111" stroke-width="0.15">GSK126</text>
<text transform="translate(320.85,167.60) rotate(-50)" font-size="4.9" text-anchor="end" font-weight="bold" fill="#111" stroke="#111" stroke-width="0.15">DMSO</text>
<text transform="translate(331.60,167.60) rotate(-50)" font-size="4.9" text-anchor="end" font-weight="bold" fill="#111" stroke="#111" stroke-width="0.15">EPZ6348</text>
<text transform="translate(342.35,167.60) rotate(-50)" font-size="4.9" text-anchor="end" font-weight="bold" fill="#111" stroke="#111" stroke-width="0.15">GSK126</text>
<text transform="translate(353.10,167.60) rotate(-50)" font-size="4.9" text-anchor="end" font-weight="bold" fill="#111" stroke="#111" stroke-width="0.15">EPZ6348</text>
<text x="319.65" y="126.00" font-size="4.5" text-anchor="middle" font-weight="bold" fill="#777">**</text>
<text x="351.90" y="112.00" font-size="4.5" text-anchor="middle" font-weight="bold" fill="#777">*</text>
<text transform="translate(272.70,136.00) rotate(-90)" font-size="4.55" text-anchor="middle" font-weight="bold" fill="#111">MFI of H2-K<tspan baseline-shift="super" font-size="3.2">b</tspan></text>
<rect x="387.60" y="152.91" width="7.20" height="11.39" fill="#060606"/>
<line x1="401.90" y1="147.96" x2="401.90" y2="146.61" stroke="#111" stroke-width="0.6"/>
<line x1="399.88" y1="146.61" x2="403.92" y2="146.61" stroke="#111" stroke-width="0.6"/>
<rect x="398.30" y="147.96" width="7.20" height="16.34" fill="#060606"/>
<line x1="412.60" y1="146.88" x2="412.60" y2="144.47" stroke="#111" stroke-width="0.6"/>
<line x1="410.58" y1="144.47" x2="414.62" y2="144.47" stroke="#111" stroke-width="0.6"/>
<rect x="409.00" y="146.88" width="7.20" height="17.42" fill="#060606"/>
<line x1="423.30" y1="136.58" x2="423.30" y2="135.92" stroke="#909090" stroke-width="0.6"/>
<line x1="421.28" y1="135.92" x2="425.32" y2="135.92" stroke="#909090" stroke-width="0.6"/>
<rect x="419.70" y="136.58" width="7.20" height="27.72" fill="#767676"/>
<line x1="434.00" y1="129.58" x2="434.00" y2="127.47" stroke="#909090" stroke-width="0.6"/>
<line x1="431.98" y1="127.47" x2="436.02" y2="127.47" stroke="#909090" stroke-width="0.6"/>
<rect x="430.40" y="129.58" width="7.20" height="34.72" fill="#767676"/>
<line x1="444.70" y1="123.43" x2="444.70" y2="121.40" stroke="#909090" stroke-width="0.6"/>
<line x1="442.68" y1="121.40" x2="446.72" y2="121.40" stroke="#909090" stroke-width="0.6"/>
<rect x="441.10" y="123.43" width="7.20" height="40.87" fill="#767676"/>
<line x1="384.50" y1="110.80" x2="384.50" y2="164.70" stroke="#111" stroke-width="0.8"/>
<line x1="384.10" y1="164.30" x2="451.00" y2="164.30" stroke="#111" stroke-width="0.8"/>
<line x1="382.90" y1="164.30" x2="384.50" y2="164.30" stroke="#111" stroke-width="0.7"/>
<text x="381.90" y="165.70" font-size="3.9" text-anchor="end" font-weight="bold" fill="#111" stroke="#111" stroke-width="0.15">0</text>
<line x1="382.90" y1="151.10" x2="384.50" y2="151.10" stroke="#111" stroke-width="0.7"/>
<text x="381.90" y="152.50" font-size="3.9" text-anchor="end" font-weight="bold" fill="#111" stroke="#111" stroke-width="0.15">10,000</text>
<line x1="382.90" y1="137.90" x2="384.50" y2="137.90" stroke="#111" stroke-width="0.7"/>
<text x="381.90" y="139.30" font-size="3.9" text-anchor="end" font-weight="bold" fill="#111" stroke="#111" stroke-width="0.15">20,000</text>
<line x1="382.90" y1="124.70" x2="384.50" y2="124.70" stroke="#111" stroke-width="0.7"/>
<text x="381.90" y="126.10" font-size="3.9" text-anchor="end" font-weight="bold" fill="#111" stroke="#111" stroke-width="0.15">30,000</text>
<line x1="382.90" y1="111.50" x2="384.50" y2="111.50" stroke="#111" stroke-width="0.7"/>
<text x="381.90" y="112.90" font-size="3.9" text-anchor="end" font-weight="bold" fill="#111" stroke="#111" stroke-width="0.15">40,000</text>
<line x1="391.20" y1="164.30" x2="391.20" y2="165.90" stroke="#111" stroke-width="0.7"/>
<line x1="401.90" y1="164.30" x2="401.90" y2="165.90" stroke="#111" stroke-width="0.7"/>
<line x1="412.60" y1="164.30" x2="412.60" y2="165.90" stroke="#111" stroke-width="0.7"/>
<line x1="423.30" y1="164.30" x2="423.30" y2="165.90" stroke="#111" stroke-width="0.7"/>
<line x1="434.00" y1="164.30" x2="434.00" y2="165.90" stroke="#111" stroke-width="0.7"/>
<line x1="444.70" y1="164.30" x2="444.70" y2="165.90" stroke="#111" stroke-width="0.7"/>
<text x="388.10" y="116.70" font-size="9" text-anchor="start" fill="#111" stroke="#111" stroke-width="0.12">CAL33</text>
<text transform="translate(392.40,168.00) rotate(-50)" font-size="4.9" text-anchor="end" font-weight="bold" fill="#111" stroke="#111" stroke-width="0.15">DMSO</text>
<text transform="translate(403.10,168.00) rotate(-50)" font-size="4.9" text-anchor="end" font-weight="bold" fill="#111" stroke="#111" stroke-width="0.15">GSK126</text>
<text transform="translate(413.80,168.00) rotate(-50)" font-size="4.9" text-anchor="end" font-weight="bold" fill="#111" stroke="#111" stroke-width="0.15">EPZ6348</text>
<text transform="translate(424.50,168.00) rotate(-50)" font-size="4.9" text-anchor="end" font-weight="bold" fill="#111" stroke="#111" stroke-width="0.15">DMSO</text>
<text transform="translate(435.20,168.00) rotate(-50)" font-size="4.9" text-anchor="end" font-weight="bold" fill="#111" stroke="#111" stroke-width="0.15">GSK126</text>
<text transform="translate(445.90,168.00) rotate(-50)" font-size="4.9" text-anchor="end" font-weight="bold" fill="#111" stroke="#111" stroke-width="0.15">EPZ6348</text>
<text x="401.90" y="145.00" font-size="4.5" text-anchor="middle" font-weight="bold" fill="#777">*</text>
<text x="434.00" y="126.00" font-size="4.5" text-anchor="middle" font-weight="bold" fill="#777">***</text>
<text x="444.70" y="120.00" font-size="4.5" text-anchor="middle" font-weight="bold" fill="#777">***</text>
<text transform="translate(366.80,137.00) rotate(-90)" font-size="4.55" text-anchor="middle" font-weight="bold" fill="#111">MFI of H2-K<tspan baseline-shift="super" font-size="3.2">b</tspan></text>
<rect x="479.9" y="77.9" width="38.2" height="27.5" fill="#fff" stroke="#333" stroke-width="1.1"/>
<rect x="484.00" y="81.30" width="10.40" height="7.00" fill="#050505"/>
<rect x="484.00" y="95.90" width="10.40" height="7.00" fill="#a6a6a6"/>
<text x="497.00" y="87.30" font-size="6.5" text-anchor="start" font-weight="bold" fill="#111" stroke="#111" stroke-width="0.2">–IFNγ</text>
<text x="497.00" y="102.20" font-size="6.5" text-anchor="start" font-weight="bold" fill="#111" stroke="#111" stroke-width="0.2">+IFNγ</text>
<text x="5.90" y="199.50" font-size="13.2" text-anchor="start" font-weight="bold" fill="#111" stroke="#111" stroke-width="0.5">C</text>
<text x="58.30" y="198.80" font-size="9.39" text-anchor="start" font-weight="bold" fill="#111" stroke="#111" stroke-width="0.22">EZH2 inhibition influences <tspan font-style="italic">B2M</tspan> and <tspan font-style="italic">CXCL10</tspan> mRNA expression</text>
<text transform="translate(16.20,281.80) rotate(-90)" font-size="8.2" text-anchor="middle" font-weight="bold" fill="#111" stroke="#111" stroke-width="0.2"><tspan font-style="italic">B2M</tspan> mRNA</text>
<text transform="translate(26.20,281.50) rotate(-90)" font-size="8.25" text-anchor="middle" font-weight="bold" fill="#111" stroke="#111" stroke-width="0.2">(fold change vs. DMSO)</text>
<text transform="translate(245.80,276.30) rotate(-90)" font-size="8.1" text-anchor="middle" font-weight="bold" fill="#111" stroke="#111" stroke-width="0.2"><tspan font-style="italic">CXCL10</tspan> mRNA</text>
<text transform="translate(256.80,276.40) rotate(-90)" font-size="8.3" text-anchor="middle" font-weight="bold" fill="#111" stroke="#111" stroke-width="0.2">(fold change vs. DMSO)</text>
<line x1="51.15" y1="268.96" x2="51.15" y2="265.44" stroke="#111" stroke-width="0.6"/>
<line x1="48.43" y1="265.44" x2="53.87" y2="265.44" stroke="#111" stroke-width="0.6"/>
<rect x="46.30" y="268.96" width="9.70" height="13.54" fill="#060606"/>
<line x1="64.52" y1="255.85" x2="64.52" y2="247.95" stroke="#111" stroke-width="0.6"/>
<line x1="61.80" y1="247.95" x2="67.24" y2="247.95" stroke="#111" stroke-width="0.6"/>
<rect x="59.67" y="255.85" width="9.70" height="26.65" fill="#060606"/>
<line x1="77.89" y1="257.26" x2="77.89" y2="253.59" stroke="#111" stroke-width="0.6"/>
<line x1="75.17" y1="253.59" x2="80.61" y2="253.59" stroke="#111" stroke-width="0.6"/>
<rect x="73.04" y="257.26" width="9.70" height="25.24" fill="#060606"/>
<line x1="91.26" y1="255.85" x2="91.26" y2="249.65" stroke="#909090" stroke-width="0.6"/>
<line x1="88.54" y1="249.65" x2="93.98" y2="249.65" stroke="#909090" stroke-width="0.6"/>
<rect x="86.41" y="255.85" width="9.70" height="26.65" fill="#767676"/>
<line x1="104.63" y1="246.12" x2="104.63" y2="237.10" stroke="#909090" stroke-width="0.6"/>
<line x1="101.91" y1="237.10" x2="107.35" y2="237.10" stroke="#909090" stroke-width="0.6"/>
<rect x="99.78" y="246.12" width="9.70" height="36.38" fill="#767676"/>
<line x1="118.00" y1="235.12" x2="118.00" y2="225.82" stroke="#909090" stroke-width="0.6"/>
<line x1="115.28" y1="225.82" x2="120.72" y2="225.82" stroke="#909090" stroke-width="0.6"/>
<rect x="113.15" y="235.12" width="9.70" height="47.38" fill="#767676"/>
<line x1="41.70" y1="211.80" x2="41.70" y2="282.90" stroke="#111" stroke-width="0.8"/>
<line x1="41.30" y1="282.50" x2="127.00" y2="282.50" stroke="#111" stroke-width="0.8"/>
<line x1="39.40" y1="282.50" x2="41.70" y2="282.50" stroke="#111" stroke-width="0.7"/>
<text x="38.40" y="284.48" font-size="5.5" text-anchor="end" font-weight="bold" fill="#111" stroke="#111" stroke-width="0.15">0</text>
<line x1="39.40" y1="268.40" x2="41.70" y2="268.40" stroke="#111" stroke-width="0.7"/>
<text x="38.40" y="270.38" font-size="5.5" text-anchor="end" font-weight="bold" fill="#111" stroke="#111" stroke-width="0.15">1</text>
<line x1="39.40" y1="254.30" x2="41.70" y2="254.30" stroke="#111" stroke-width="0.7"/>
<text x="38.40" y="256.28" font-size="5.5" text-anchor="end" font-weight="bold" fill="#111" stroke="#111" stroke-width="0.15">2</text>
<line x1="39.40" y1="240.20" x2="41.70" y2="240.20" stroke="#111" stroke-width="0.7"/>
<text x="38.40" y="242.18" font-size="5.5" text-anchor="end" font-weight="bold" fill="#111" stroke="#111" stroke-width="0.15">3</text>
<line x1="39.40" y1="226.10" x2="41.70" y2="226.10" stroke="#111" stroke-width="0.7"/>
<text x="38.40" y="228.08" font-size="5.5" text-anchor="end" font-weight="bold" fill="#111" stroke="#111" stroke-width="0.15">4</text>
<line x1="39.40" y1="212.00" x2="41.70" y2="212.00" stroke="#111" stroke-width="0.7"/>
<text x="38.40" y="213.98" font-size="5.5" text-anchor="end" font-weight="bold" fill="#111" stroke="#111" stroke-width="0.15">5</text>
<line x1="51.15" y1="282.50" x2="51.15" y2="284.80" stroke="#111" stroke-width="0.7"/>
<line x1="64.52" y1="282.50" x2="64.52" y2="284.80" stroke="#111" stroke-width="0.7"/>
<line x1="77.89" y1="282.50" x2="77.89" y2="284.80" stroke="#111" stroke-width="0.7"/>
<line x1="91.26" y1="282.50" x2="91.26" y2="284.80" stroke="#111" stroke-width="0.7"/>
<line x1="104.63" y1="282.50" x2="104.63" y2="284.80" stroke="#111" stroke-width="0.7"/>
<line x1="118.00" y1="282.50" x2="118.00" y2="284.80" stroke="#111" stroke-width="0.7"/>
<text x="44.30" y="224.30" font-size="9" text-anchor="start" fill="#111" stroke="#111" stroke-width="0.12">SCC25</text>
<text x="64.52" y="246.50" font-size="4.5" text-anchor="middle" font-weight="bold" fill="#777">*</text>
<text x="77.89" y="252.50" font-size="4.5" text-anchor="middle" font-weight="bold" fill="#777">*</text>
<text x="118.00" y="224.30" font-size="4.5" text-anchor="middle" font-weight="bold" fill="#777">**</text>
<line x1="48.75" y1="345.76" x2="48.75" y2="341.60" stroke="#111" stroke-width="0.6"/>
<line x1="46.03" y1="341.60" x2="51.47" y2="341.60" stroke="#111" stroke-width="0.6"/>
<rect x="43.90" y="345.76" width="9.70" height="17.74" fill="#060606"/>
<line x1="62.50" y1="342.14" x2="62.50" y2="338.70" stroke="#111" stroke-width="0.6"/>
<line x1="59.78" y1="338.70" x2="65.22" y2="338.70" stroke="#111" stroke-width="0.6"/>
<rect x="57.65" y="342.14" width="9.70" height="21.36" fill="#060606"/>
<line x1="76.25" y1="337.98" x2="76.25" y2="332.37" stroke="#111" stroke-width="0.6"/>
<line x1="73.53" y1="332.37" x2="78.97" y2="332.37" stroke="#111" stroke-width="0.6"/>
<rect x="71.40" y="337.98" width="9.70" height="25.52" fill="#060606"/>
<line x1="90.00" y1="330.92" x2="90.00" y2="320.60" stroke="#909090" stroke-width="0.6"/>
<line x1="87.28" y1="320.60" x2="92.72" y2="320.60" stroke="#909090" stroke-width="0.6"/>
<rect x="85.15" y="330.92" width="9.70" height="32.58" fill="#767676"/>
<line x1="103.75" y1="335.44" x2="103.75" y2="319.88" stroke="#909090" stroke-width="0.6"/>
<line x1="101.03" y1="319.88" x2="106.47" y2="319.88" stroke="#909090" stroke-width="0.6"/>
<rect x="98.90" y="335.44" width="9.70" height="28.06" fill="#767676"/>
<line x1="117.50" y1="323.50" x2="117.50" y2="307.93" stroke="#909090" stroke-width="0.6"/>
<line x1="114.78" y1="307.93" x2="120.22" y2="307.93" stroke="#909090" stroke-width="0.6"/>
<rect x="112.65" y="323.50" width="9.70" height="40.00" fill="#767676"/>
<line x1="39.50" y1="291.20" x2="39.50" y2="363.90" stroke="#111" stroke-width="0.8"/>
<line x1="39.10" y1="363.50" x2="127.70" y2="363.50" stroke="#111" stroke-width="0.8"/>
<line x1="37.20" y1="363.50" x2="39.50" y2="363.50" stroke="#111" stroke-width="0.7"/>
<text x="36.20" y="365.48" font-size="5.5" text-anchor="end" font-weight="bold" fill="#111" stroke="#111" stroke-width="0.22">0</text>
<line x1="37.20" y1="345.40" x2="39.50" y2="345.40" stroke="#111" stroke-width="0.7"/>
<text x="36.20" y="347.38" font-size="5.5" text-anchor="end" font-weight="bold" fill="#111" stroke="#111" stroke-width="0.22">1</text>
<line x1="37.20" y1="327.30" x2="39.50" y2="327.30" stroke="#111" stroke-width="0.7"/>
<text x="36.20" y="329.28" font-size="5.5" text-anchor="end" font-weight="bold" fill="#111" stroke="#111" stroke-width="0.22">2</text>
<line x1="37.20" y1="309.20" x2="39.50" y2="309.20" stroke="#111" stroke-width="0.7"/>
<text x="36.20" y="311.18" font-size="5.5" text-anchor="end" font-weight="bold" fill="#111" stroke="#111" stroke-width="0.22">3</text>
<line x1="37.20" y1="291.10" x2="39.50" y2="291.10" stroke="#111" stroke-width="0.7"/>
<text x="36.20" y="293.08" font-size="5.5" text-anchor="end" font-weight="bold" fill="#111" stroke="#111" stroke-width="0.22">4</text>
<line x1="48.75" y1="363.50" x2="48.75" y2="365.80" stroke="#111" stroke-width="0.7"/>
<line x1="62.50" y1="363.50" x2="62.50" y2="365.80" stroke="#111" stroke-width="0.7"/>
<line x1="76.25" y1="363.50" x2="76.25" y2="365.80" stroke="#111" stroke-width="0.7"/>
<line x1="90.00" y1="363.50" x2="90.00" y2="365.80" stroke="#111" stroke-width="0.7"/>
<line x1="103.75" y1="363.50" x2="103.75" y2="365.80" stroke="#111" stroke-width="0.7"/>
<line x1="117.50" y1="363.50" x2="117.50" y2="365.80" stroke="#111" stroke-width="0.7"/>
<text x="44.50" y="302.40" font-size="9" text-anchor="start" fill="#111" stroke="#111" stroke-width="0.12">SCC9</text>
<text transform="translate(50.25,369.00) rotate(-45)" font-size="5.9" text-anchor="end" font-weight="bold" fill="#111" stroke="#111" stroke-width="0.22">DMSO</text>
<text transform="translate(64.00,369.00) rotate(-45)" font-size="5.9" text-anchor="end" font-weight="bold" fill="#111" stroke="#111" stroke-width="0.22">GSK126</text>
<text transform="translate(77.75,369.00) rotate(-45)" font-size="5.9" text-anchor="end" font-weight="bold" fill="#111" stroke="#111" stroke-width="0.22">EPZ6438</text>
<text transform="translate(91.50,369.00) rotate(-45)" font-size="5.9" text-anchor="end" font-weight="bold" fill="#111" stroke="#111" stroke-width="0.22">DMSO</text>
<text transform="translate(105.25,369.00) rotate(-45)" font-size="5.9" text-anchor="end" font-weight="bold" fill="#111" stroke="#111" stroke-width="0.22">GSK126</text>
<text transform="translate(119.00,369.00) rotate(-45)" font-size="5.9" text-anchor="end" font-weight="bold" fill="#111" stroke="#111" stroke-width="0.22">EPZ6438</text>
<text x="76.25" y="331.50" font-size="4.5" text-anchor="middle" font-weight="bold" fill="#777">*</text>
<line x1="150.55" y1="269.22" x2="150.55" y2="266.26" stroke="#111" stroke-width="0.6"/>
<line x1="147.83" y1="266.26" x2="153.27" y2="266.26" stroke="#111" stroke-width="0.6"/>
<rect x="145.70" y="269.22" width="9.70" height="11.28" fill="#060606"/>
<line x1="164.27" y1="267.09" x2="164.27" y2="265.31" stroke="#111" stroke-width="0.6"/>
<line x1="161.55" y1="265.31" x2="166.99" y2="265.31" stroke="#111" stroke-width="0.6"/>
<rect x="159.42" y="267.09" width="9.70" height="13.41" fill="#060606"/>
<line x1="177.99" y1="264.48" x2="177.99" y2="258.90" stroke="#111" stroke-width="0.6"/>
<line x1="175.27" y1="258.90" x2="180.71" y2="258.90" stroke="#111" stroke-width="0.6"/>
<rect x="173.14" y="264.48" width="9.70" height="16.02" fill="#060606"/>
<line x1="191.71" y1="257.35" x2="191.71" y2="249.64" stroke="#909090" stroke-width="0.6"/>
<line x1="188.99" y1="249.64" x2="194.43" y2="249.64" stroke="#909090" stroke-width="0.6"/>
<rect x="186.86" y="257.35" width="9.70" height="23.15" fill="#767676"/>
<line x1="205.43" y1="256.05" x2="205.43" y2="254.74" stroke="#909090" stroke-width="0.6"/>
<line x1="202.71" y1="254.74" x2="208.15" y2="254.74" stroke="#909090" stroke-width="0.6"/>
<rect x="200.58" y="256.05" width="9.70" height="24.45" fill="#767676"/>
<line x1="219.15" y1="237.06" x2="219.15" y2="220.79" stroke="#909090" stroke-width="0.6"/>
<line x1="216.43" y1="220.79" x2="221.87" y2="220.79" stroke="#909090" stroke-width="0.6"/>
<rect x="214.30" y="237.06" width="9.70" height="43.44" fill="#767676"/>
<line x1="141.00" y1="209.30" x2="141.00" y2="280.90" stroke="#111" stroke-width="0.8"/>
<line x1="140.60" y1="280.50" x2="228.00" y2="280.50" stroke="#111" stroke-width="0.8"/>
<line x1="138.70" y1="280.50" x2="141.00" y2="280.50" stroke="#111" stroke-width="0.7"/>
<text x="137.70" y="282.48" font-size="5.5" text-anchor="end" font-weight="bold" fill="#111" stroke="#111" stroke-width="0.15">0</text>
<line x1="138.70" y1="256.76" x2="141.00" y2="256.76" stroke="#111" stroke-width="0.7"/>
<text x="137.70" y="258.74" font-size="5.5" text-anchor="end" font-weight="bold" fill="#111" stroke="#111" stroke-width="0.15">2</text>
<line x1="138.70" y1="233.02" x2="141.00" y2="233.02" stroke="#111" stroke-width="0.7"/>
<text x="137.70" y="235.00" font-size="5.5" text-anchor="end" font-weight="bold" fill="#111" stroke="#111" stroke-width="0.15">4</text>
<line x1="138.70" y1="209.28" x2="141.00" y2="209.28" stroke="#111" stroke-width="0.7"/>
<text x="137.70" y="211.26" font-size="5.5" text-anchor="end" font-weight="bold" fill="#111" stroke="#111" stroke-width="0.15">6</text>
<line x1="150.55" y1="280.50" x2="150.55" y2="282.80" stroke="#111" stroke-width="0.7"/>
<line x1="164.27" y1="280.50" x2="164.27" y2="282.80" stroke="#111" stroke-width="0.7"/>
<line x1="177.99" y1="280.50" x2="177.99" y2="282.80" stroke="#111" stroke-width="0.7"/>
<line x1="191.71" y1="280.50" x2="191.71" y2="282.80" stroke="#111" stroke-width="0.7"/>
<line x1="205.43" y1="280.50" x2="205.43" y2="282.80" stroke="#111" stroke-width="0.7"/>
<line x1="219.15" y1="280.50" x2="219.15" y2="282.80" stroke="#111" stroke-width="0.7"/>
<text x="146.90" y="228.60" font-size="9" text-anchor="start" fill="#111" stroke="#111" stroke-width="0.12">CAL27</text>
<text x="219.15" y="220.00" font-size="4.5" text-anchor="middle" font-weight="bold" fill="#777">**</text>
<line x1="148.75" y1="356.22" x2="148.75" y2="354.23" stroke="#111" stroke-width="0.6"/>
<line x1="145.98" y1="354.23" x2="151.52" y2="354.23" stroke="#111" stroke-width="0.6"/>
<rect x="143.80" y="356.22" width="9.90" height="6.98" fill="#060606"/>
<line x1="162.75" y1="353.42" x2="162.75" y2="347.76" stroke="#111" stroke-width="0.6"/>
<line x1="159.98" y1="347.76" x2="165.52" y2="347.76" stroke="#111" stroke-width="0.6"/>
<rect x="157.80" y="353.42" width="9.90" height="9.78" fill="#060606"/>
<line x1="176.75" y1="350.63" x2="176.75" y2="347.99" stroke="#111" stroke-width="0.6"/>
<line x1="173.98" y1="347.99" x2="179.52" y2="347.99" stroke="#111" stroke-width="0.6"/>
<rect x="171.80" y="350.63" width="9.90" height="12.57" fill="#060606"/>
<line x1="190.75" y1="340.19" x2="190.75" y2="336.89" stroke="#909090" stroke-width="0.6"/>
<line x1="187.98" y1="336.89" x2="193.52" y2="336.89" stroke="#909090" stroke-width="0.6"/>
<rect x="185.80" y="340.19" width="9.90" height="23.01" fill="#767676"/>
<line x1="204.75" y1="329.02" x2="204.75" y2="317.78" stroke="#909090" stroke-width="0.6"/>
<line x1="201.98" y1="317.78" x2="207.52" y2="317.78" stroke="#909090" stroke-width="0.6"/>
<rect x="199.80" y="329.02" width="9.90" height="34.18" fill="#767676"/>
<line x1="218.75" y1="319.17" x2="218.75" y2="306.02" stroke="#909090" stroke-width="0.6"/>
<line x1="215.98" y1="306.02" x2="221.52" y2="306.02" stroke="#909090" stroke-width="0.6"/>
<rect x="213.80" y="319.17" width="9.90" height="44.03" fill="#767676"/>
<line x1="140.30" y1="289.80" x2="140.30" y2="363.60" stroke="#111" stroke-width="0.8"/>
<line x1="139.90" y1="363.20" x2="228.00" y2="363.20" stroke="#111" stroke-width="0.8"/>
<line x1="138.00" y1="363.20" x2="140.30" y2="363.20" stroke="#111" stroke-width="0.7"/>
<text x="137.00" y="365.18" font-size="5.5" text-anchor="end" font-weight="bold" fill="#111" stroke="#111" stroke-width="0.22">0</text>
<line x1="138.00" y1="348.50" x2="140.30" y2="348.50" stroke="#111" stroke-width="0.7"/>
<text x="137.00" y="350.48" font-size="5.5" text-anchor="end" font-weight="bold" fill="#111" stroke="#111" stroke-width="0.22">2</text>
<line x1="138.00" y1="333.80" x2="140.30" y2="333.80" stroke="#111" stroke-width="0.7"/>
<text x="137.00" y="335.78" font-size="5.5" text-anchor="end" font-weight="bold" fill="#111" stroke="#111" stroke-width="0.22">4</text>
<line x1="138.00" y1="319.10" x2="140.30" y2="319.10" stroke="#111" stroke-width="0.7"/>
<text x="137.00" y="321.08" font-size="5.5" text-anchor="end" font-weight="bold" fill="#111" stroke="#111" stroke-width="0.22">6</text>
<line x1="138.00" y1="304.40" x2="140.30" y2="304.40" stroke="#111" stroke-width="0.7"/>
<text x="137.00" y="306.38" font-size="5.5" text-anchor="end" font-weight="bold" fill="#111" stroke="#111" stroke-width="0.22">8</text>
<line x1="138.00" y1="289.70" x2="140.30" y2="289.70" stroke="#111" stroke-width="0.7"/>
<text x="137.00" y="291.68" font-size="5.5" text-anchor="end" font-weight="bold" fill="#111" stroke="#111" stroke-width="0.22">10</text>
<line x1="148.75" y1="363.20" x2="148.75" y2="365.50" stroke="#111" stroke-width="0.7"/>
<line x1="162.75" y1="363.20" x2="162.75" y2="365.50" stroke="#111" stroke-width="0.7"/>
<line x1="176.75" y1="363.20" x2="176.75" y2="365.50" stroke="#111" stroke-width="0.7"/>
<line x1="190.75" y1="363.20" x2="190.75" y2="365.50" stroke="#111" stroke-width="0.7"/>
<line x1="204.75" y1="363.20" x2="204.75" y2="365.50" stroke="#111" stroke-width="0.7"/>
<line x1="218.75" y1="363.20" x2="218.75" y2="365.50" stroke="#111" stroke-width="0.7"/>
<text x="143.80" y="303.20" font-size="9" text-anchor="start" fill="#111" stroke="#111" stroke-width="0.12">CAL33</text>
<text transform="translate(150.25,369.00) rotate(-45)" font-size="5.9" text-anchor="end" font-weight="bold" fill="#111" stroke="#111" stroke-width="0.22">DMSO</text>
<text transform="translate(164.25,369.00) rotate(-45)" font-size="5.9" text-anchor="end" font-weight="bold" fill="#111" stroke="#111" stroke-width="0.22">GSK126</text>
<text transform="translate(178.25,369.00) rotate(-45)" font-size="5.9" text-anchor="end" font-weight="bold" fill="#111" stroke="#111" stroke-width="0.22">EPZ6438</text>
<text transform="translate(192.25,369.00) rotate(-45)" font-size="5.9" text-anchor="end" font-weight="bold" fill="#111" stroke="#111" stroke-width="0.22">DMSO</text>
<text transform="translate(206.25,369.00) rotate(-45)" font-size="5.9" text-anchor="end" font-weight="bold" fill="#111" stroke="#111" stroke-width="0.22">GSK126</text>
<text transform="translate(220.25,369.00) rotate(-45)" font-size="5.9" text-anchor="end" font-weight="bold" fill="#111" stroke="#111" stroke-width="0.22">EPZ6438</text>
<text x="176.75" y="346.50" font-size="4.5" text-anchor="middle" font-weight="bold" fill="#777">*</text>
<text x="218.75" y="304.50" font-size="4.5" text-anchor="middle" font-weight="bold" fill="#777">*</text>
<line x1="285.05" y1="266.60" x2="285.05" y2="265.60" stroke="#111" stroke-width="0.7"/>
<line x1="282.33" y1="265.60" x2="287.77" y2="265.60" stroke="#111" stroke-width="0.7"/>
<rect x="280.20" y="266.60" width="9.70" height="10.40" fill="#060606"/>
<line x1="298.50" y1="255.75" x2="298.50" y2="254.75" stroke="#111" stroke-width="0.7"/>
<line x1="295.78" y1="254.75" x2="301.22" y2="254.75" stroke="#111" stroke-width="0.7"/>
<rect x="293.65" y="255.75" width="9.70" height="21.25" fill="#060606"/>
<line x1="311.95" y1="256.00" x2="311.95" y2="252.25" stroke="#111" stroke-width="0.7"/>
<line x1="309.23" y1="252.25" x2="314.67" y2="252.25" stroke="#111" stroke-width="0.7"/>
<rect x="307.10" y="256.00" width="9.70" height="21.00" fill="#060606"/>
<line x1="325.40" y1="233.50" x2="325.40" y2="230.40" stroke="#8c8c8c" stroke-width="0.7"/>
<line x1="322.68" y1="230.40" x2="328.12" y2="230.40" stroke="#8c8c8c" stroke-width="0.7"/>
<rect x="320.55" y="233.50" width="9.70" height="43.50" fill="#767676"/>
<rect x="320.05" y="240.70" width="10.70" height="3.90" fill="#fff"/>
<line x1="338.85" y1="222.50" x2="338.85" y2="218.50" stroke="#8c8c8c" stroke-width="0.7"/>
<line x1="336.13" y1="218.50" x2="341.57" y2="218.50" stroke="#8c8c8c" stroke-width="0.7"/>
<rect x="334.00" y="222.50" width="9.70" height="54.50" fill="#767676"/>
<rect x="333.50" y="240.70" width="10.70" height="3.90" fill="#fff"/>
<line x1="352.30" y1="215.60" x2="352.30" y2="210.60" stroke="#8c8c8c" stroke-width="0.7"/>
<line x1="349.58" y1="210.60" x2="355.02" y2="210.60" stroke="#8c8c8c" stroke-width="0.7"/>
<rect x="347.45" y="215.60" width="9.70" height="61.40" fill="#767676"/>
<rect x="346.95" y="240.70" width="10.70" height="3.90" fill="#fff"/>
<line x1="276.20" y1="206.90" x2="276.20" y2="241.00" stroke="#111" stroke-width="0.9"/>
<line x1="276.20" y1="244.60" x2="276.20" y2="277.45" stroke="#111" stroke-width="0.9"/>
<line x1="274.70" y1="244.60" x2="277.70" y2="244.60" stroke="#111" stroke-width="0.8"/>
<line x1="274.70" y1="241.00" x2="277.70" y2="241.00" stroke="#111" stroke-width="0.8"/>
<line x1="275.75" y1="277.00" x2="360.80" y2="277.00" stroke="#111" stroke-width="0.9"/>
<line x1="273.20" y1="239.80" x2="276.20" y2="239.80" stroke="#111" stroke-width="0.8"/>
<text x="272.20" y="241.85" font-size="5.8" text-anchor="end" font-weight="bold" fill="#111" stroke="#111" stroke-width="0.12">100</text>
<line x1="273.20" y1="231.60" x2="276.20" y2="231.60" stroke="#111" stroke-width="0.8"/>
<text x="272.20" y="233.65" font-size="5.8" text-anchor="end" font-weight="bold" fill="#111" stroke="#111" stroke-width="0.12">200</text>
<line x1="273.20" y1="223.40" x2="276.20" y2="223.40" stroke="#111" stroke-width="0.8"/>
<text x="272.20" y="225.45" font-size="5.8" text-anchor="end" font-weight="bold" fill="#111" stroke="#111" stroke-width="0.12">300</text>
<line x1="273.20" y1="215.20" x2="276.20" y2="215.20" stroke="#111" stroke-width="0.8"/>
<text x="272.20" y="217.25" font-size="5.8" text-anchor="end" font-weight="bold" fill="#111" stroke="#111" stroke-width="0.12">400</text>
<line x1="273.20" y1="207.00" x2="276.20" y2="207.00" stroke="#111" stroke-width="0.8"/>
<text x="272.20" y="209.05" font-size="5.8" text-anchor="end" font-weight="bold" fill="#111" stroke="#111" stroke-width="0.12">500</text>
<line x1="273.20" y1="277.00" x2="276.20" y2="277.00" stroke="#111" stroke-width="0.8"/>
<text x="272.20" y="279.05" font-size="5.8" text-anchor="end" font-weight="bold" fill="#111" stroke="#111" stroke-width="0.12">0</text>
<line x1="273.20" y1="266.20" x2="276.20" y2="266.20" stroke="#111" stroke-width="0.8"/>
<text x="272.20" y="268.25" font-size="5.8" text-anchor="end" font-weight="bold" fill="#111" stroke="#111" stroke-width="0.12">1</text>
<line x1="273.20" y1="255.40" x2="276.20" y2="255.40" stroke="#111" stroke-width="0.8"/>
<text x="272.20" y="257.45" font-size="5.8" text-anchor="end" font-weight="bold" fill="#111" stroke="#111" stroke-width="0.12">2</text>
<line x1="273.20" y1="244.60" x2="276.20" y2="244.60" stroke="#111" stroke-width="0.8"/>
<text x="272.20" y="246.65" font-size="5.8" text-anchor="end" font-weight="bold" fill="#111" stroke="#111" stroke-width="0.12">3</text>
<line x1="285.05" y1="277.00" x2="285.05" y2="279.20" stroke="#111" stroke-width="0.8"/>
<line x1="298.50" y1="277.00" x2="298.50" y2="279.20" stroke="#111" stroke-width="0.8"/>
<line x1="311.95" y1="277.00" x2="311.95" y2="279.20" stroke="#111" stroke-width="0.8"/>
<line x1="325.40" y1="277.00" x2="325.40" y2="279.20" stroke="#111" stroke-width="0.8"/>
<line x1="338.85" y1="277.00" x2="338.85" y2="279.20" stroke="#111" stroke-width="0.8"/>
<line x1="352.30" y1="277.00" x2="352.30" y2="279.20" stroke="#111" stroke-width="0.8"/>
<text x="280.80" y="223.80" font-size="9" text-anchor="start" fill="#111" stroke="#111" stroke-width="0.12">SCC25</text>
<text x="298.50" y="253.80" font-size="4.5" text-anchor="middle" font-weight="bold" fill="#888">***</text>
<text x="311.95" y="251.50" font-size="4.5" text-anchor="middle" font-weight="bold" fill="#888">***</text>
<text x="338.85" y="217.50" font-size="4.5" text-anchor="middle" font-weight="bold" fill="#888">**</text>
<text x="352.30" y="209.50" font-size="4.5" text-anchor="middle" font-weight="bold" fill="#888">***</text>
<line x1="283.70" y1="350.50" x2="283.70" y2="348.25" stroke="#111" stroke-width="0.7"/>
<line x1="281.01" y1="348.25" x2="286.39" y2="348.25" stroke="#111" stroke-width="0.7"/>
<rect x="278.90" y="350.50" width="9.60" height="7.90" fill="#060606"/>
<line x1="297.20" y1="336.50" x2="297.20" y2="331.10" stroke="#111" stroke-width="0.7"/>
<line x1="294.51" y1="331.10" x2="299.89" y2="331.10" stroke="#111" stroke-width="0.7"/>
<rect x="292.40" y="336.50" width="9.60" height="21.90" fill="#060606"/>
<line x1="310.70" y1="349.25" x2="310.70" y2="346.50" stroke="#111" stroke-width="0.7"/>
<line x1="308.01" y1="346.50" x2="313.39" y2="346.50" stroke="#111" stroke-width="0.7"/>
<rect x="305.90" y="349.25" width="9.60" height="9.15" fill="#060606"/>
<line x1="324.20" y1="312.00" x2="324.20" y2="305.75" stroke="#8c8c8c" stroke-width="0.7"/>
<line x1="321.51" y1="305.75" x2="326.89" y2="305.75" stroke="#8c8c8c" stroke-width="0.7"/>
<rect x="319.40" y="312.00" width="9.60" height="46.40" fill="#767676"/>
<rect x="318.90" y="320.80" width="10.60" height="4.60" fill="#fff"/>
<line x1="337.70" y1="299.25" x2="337.70" y2="291.40" stroke="#8c8c8c" stroke-width="0.7"/>
<line x1="335.01" y1="291.40" x2="340.39" y2="291.40" stroke="#8c8c8c" stroke-width="0.7"/>
<rect x="332.90" y="299.25" width="9.60" height="59.15" fill="#767676"/>
<rect x="332.40" y="320.80" width="10.60" height="4.60" fill="#fff"/>
<line x1="351.20" y1="305.75" x2="351.20" y2="299.25" stroke="#8c8c8c" stroke-width="0.7"/>
<line x1="348.51" y1="299.25" x2="353.89" y2="299.25" stroke="#8c8c8c" stroke-width="0.7"/>
<rect x="346.40" y="305.75" width="9.60" height="52.65" fill="#767676"/>
<rect x="345.90" y="320.80" width="10.60" height="4.60" fill="#fff"/>
<line x1="274.60" y1="287.40" x2="274.60" y2="321.20" stroke="#111" stroke-width="0.9"/>
<line x1="274.60" y1="325.25" x2="274.60" y2="358.85" stroke="#111" stroke-width="0.9"/>
<line x1="273.10" y1="325.25" x2="276.10" y2="325.25" stroke="#111" stroke-width="0.8"/>
<line x1="273.10" y1="321.20" x2="276.10" y2="321.20" stroke="#111" stroke-width="0.8"/>
<line x1="274.15" y1="358.40" x2="360.50" y2="358.40" stroke="#111" stroke-width="0.9"/>
<line x1="271.60" y1="317.90" x2="274.60" y2="317.90" stroke="#111" stroke-width="0.8"/>
<text x="270.60" y="319.95" font-size="5.8" text-anchor="end" font-weight="bold" fill="#111" stroke="#111" stroke-width="0.12">400</text>
<line x1="271.60" y1="310.34" x2="274.60" y2="310.34" stroke="#111" stroke-width="0.8"/>
<text x="270.60" y="312.39" font-size="5.8" text-anchor="end" font-weight="bold" fill="#111" stroke="#111" stroke-width="0.12">500</text>
<line x1="271.60" y1="302.78" x2="274.60" y2="302.78" stroke="#111" stroke-width="0.8"/>
<text x="270.60" y="304.83" font-size="5.8" text-anchor="end" font-weight="bold" fill="#111" stroke="#111" stroke-width="0.12">600</text>
<line x1="271.60" y1="295.22" x2="274.60" y2="295.22" stroke="#111" stroke-width="0.8"/>
<text x="270.60" y="297.27" font-size="5.8" text-anchor="end" font-weight="bold" fill="#111" stroke="#111" stroke-width="0.12">700</text>
<line x1="271.60" y1="287.66" x2="274.60" y2="287.66" stroke="#111" stroke-width="0.8"/>
<text x="270.60" y="289.71" font-size="5.8" text-anchor="end" font-weight="bold" fill="#111" stroke="#111" stroke-width="0.12">800</text>
<line x1="271.60" y1="358.40" x2="274.60" y2="358.40" stroke="#111" stroke-width="0.8"/>
<text x="270.60" y="360.45" font-size="5.8" text-anchor="end" font-weight="bold" fill="#111" stroke="#111" stroke-width="0.12">0</text>
<line x1="271.60" y1="350.10" x2="274.60" y2="350.10" stroke="#111" stroke-width="0.8"/>
<text x="270.60" y="352.15" font-size="5.8" text-anchor="end" font-weight="bold" fill="#111" stroke="#111" stroke-width="0.12">1</text>
<line x1="271.60" y1="341.80" x2="274.60" y2="341.80" stroke="#111" stroke-width="0.8"/>
<text x="270.60" y="343.85" font-size="5.8" text-anchor="end" font-weight="bold" fill="#111" stroke="#111" stroke-width="0.12">2</text>
<line x1="271.60" y1="333.50" x2="274.60" y2="333.50" stroke="#111" stroke-width="0.8"/>
<text x="270.60" y="335.55" font-size="5.8" text-anchor="end" font-weight="bold" fill="#111" stroke="#111" stroke-width="0.12">3</text>
<line x1="271.60" y1="325.20" x2="274.60" y2="325.20" stroke="#111" stroke-width="0.8"/>
<text x="270.60" y="327.25" font-size="5.8" text-anchor="end" font-weight="bold" fill="#111" stroke="#111" stroke-width="0.12">4</text>
<line x1="283.70" y1="358.40" x2="283.70" y2="360.60" stroke="#111" stroke-width="0.8"/>
<line x1="297.20" y1="358.40" x2="297.20" y2="360.60" stroke="#111" stroke-width="0.8"/>
<line x1="310.70" y1="358.40" x2="310.70" y2="360.60" stroke="#111" stroke-width="0.8"/>
<line x1="324.20" y1="358.40" x2="324.20" y2="360.60" stroke="#111" stroke-width="0.8"/>
<line x1="337.70" y1="358.40" x2="337.70" y2="360.60" stroke="#111" stroke-width="0.8"/>
<line x1="351.20" y1="358.40" x2="351.20" y2="360.60" stroke="#111" stroke-width="0.8"/>
<text x="281.70" y="298.40" font-size="9" text-anchor="start" fill="#111" stroke="#111" stroke-width="0.12">SCC9</text>
<text transform="translate(284.90,364.00) rotate(-45)" font-size="5.9" text-anchor="end" font-weight="bold" fill="#111" stroke="#111" stroke-width="0.25">DMSO</text>
<text transform="translate(298.40,364.00) rotate(-45)" font-size="5.9" text-anchor="end" font-weight="bold" fill="#111" stroke="#111" stroke-width="0.25">GSK126</text>
<text transform="translate(311.90,364.00) rotate(-45)" font-size="5.9" text-anchor="end" font-weight="bold" fill="#111" stroke="#111" stroke-width="0.25">EPZ6438</text>
<text transform="translate(325.40,364.00) rotate(-45)" font-size="5.9" text-anchor="end" font-weight="bold" fill="#111" stroke="#111" stroke-width="0.25">DMSO</text>
<text transform="translate(338.90,364.00) rotate(-45)" font-size="5.9" text-anchor="end" font-weight="bold" fill="#111" stroke="#111" stroke-width="0.25">GSK126</text>
<text transform="translate(352.40,364.00) rotate(-45)" font-size="5.9" text-anchor="end" font-weight="bold" fill="#111" stroke="#111" stroke-width="0.25">EPZ6438</text>
<text x="297.20" y="330.50" font-size="4.5" text-anchor="middle" font-weight="bold" fill="#888">***</text>
<text x="337.70" y="291.00" font-size="4.5" text-anchor="middle" font-weight="bold" fill="#888">*</text>
<line x1="398.60" y1="270.60" x2="398.60" y2="269.40" stroke="#111" stroke-width="0.7"/>
<line x1="395.91" y1="269.40" x2="401.29" y2="269.40" stroke="#111" stroke-width="0.7"/>
<rect x="393.80" y="270.60" width="9.60" height="6.30" fill="#060606"/>
<line x1="412.00" y1="263.80" x2="412.00" y2="260.80" stroke="#111" stroke-width="0.7"/>
<line x1="409.31" y1="260.80" x2="414.69" y2="260.80" stroke="#111" stroke-width="0.7"/>
<rect x="407.20" y="263.80" width="9.60" height="13.10" fill="#060606"/>
<line x1="425.40" y1="251.00" x2="425.40" y2="247.00" stroke="#111" stroke-width="0.7"/>
<line x1="422.71" y1="247.00" x2="428.09" y2="247.00" stroke="#111" stroke-width="0.7"/>
<rect x="420.60" y="251.00" width="9.60" height="25.90" fill="#060606"/>
<line x1="438.80" y1="234.00" x2="438.80" y2="231.25" stroke="#8c8c8c" stroke-width="0.7"/>
<line x1="436.11" y1="231.25" x2="441.49" y2="231.25" stroke="#8c8c8c" stroke-width="0.7"/>
<rect x="434.00" y="234.00" width="9.60" height="42.90" fill="#767676"/>
<rect x="433.50" y="240.60" width="10.60" height="3.80" fill="#fff"/>
<line x1="452.20" y1="221.00" x2="452.20" y2="215.60" stroke="#8c8c8c" stroke-width="0.7"/>
<line x1="449.51" y1="215.60" x2="454.89" y2="215.60" stroke="#8c8c8c" stroke-width="0.7"/>
<rect x="447.40" y="221.00" width="9.60" height="55.90" fill="#767676"/>
<rect x="446.90" y="240.60" width="10.60" height="3.80" fill="#fff"/>
<line x1="465.60" y1="216.00" x2="465.60" y2="211.00" stroke="#8c8c8c" stroke-width="0.7"/>
<line x1="462.91" y1="211.00" x2="468.29" y2="211.00" stroke="#8c8c8c" stroke-width="0.7"/>
<rect x="460.80" y="216.00" width="9.60" height="60.90" fill="#767676"/>
<rect x="460.30" y="240.60" width="10.60" height="3.80" fill="#fff"/>
<line x1="390.40" y1="207.40" x2="390.40" y2="240.80" stroke="#111" stroke-width="0.9"/>
<line x1="390.40" y1="244.00" x2="390.40" y2="277.35" stroke="#111" stroke-width="0.9"/>
<line x1="388.90" y1="244.00" x2="391.90" y2="244.00" stroke="#111" stroke-width="0.8"/>
<line x1="388.90" y1="240.80" x2="391.90" y2="240.80" stroke="#111" stroke-width="0.8"/>
<line x1="389.95" y1="276.90" x2="474.30" y2="276.90" stroke="#111" stroke-width="0.9"/>
<line x1="387.40" y1="235.40" x2="390.40" y2="235.40" stroke="#111" stroke-width="0.8"/>
<text x="386.40" y="237.45" font-size="5.8" text-anchor="end" font-weight="bold" fill="#111" stroke="#111" stroke-width="0.12">200</text>
<line x1="387.40" y1="226.10" x2="390.40" y2="226.10" stroke="#111" stroke-width="0.8"/>
<text x="386.40" y="228.15" font-size="5.8" text-anchor="end" font-weight="bold" fill="#111" stroke="#111" stroke-width="0.12">300</text>
<line x1="387.40" y1="216.80" x2="390.40" y2="216.80" stroke="#111" stroke-width="0.8"/>
<text x="386.40" y="218.85" font-size="5.8" text-anchor="end" font-weight="bold" fill="#111" stroke="#111" stroke-width="0.12">400</text>
<line x1="387.40" y1="207.50" x2="390.40" y2="207.50" stroke="#111" stroke-width="0.8"/>
<text x="386.40" y="209.55" font-size="5.8" text-anchor="end" font-weight="bold" fill="#111" stroke="#111" stroke-width="0.12">500</text>
<line x1="387.40" y1="276.90" x2="390.40" y2="276.90" stroke="#111" stroke-width="0.8"/>
<text x="386.40" y="278.95" font-size="5.8" text-anchor="end" font-weight="bold" fill="#111" stroke="#111" stroke-width="0.12">0</text>
<line x1="387.40" y1="270.32" x2="390.40" y2="270.32" stroke="#111" stroke-width="0.8"/>
<text x="386.40" y="272.37" font-size="5.8" text-anchor="end" font-weight="bold" fill="#111" stroke="#111" stroke-width="0.12">1</text>
<line x1="387.40" y1="263.74" x2="390.40" y2="263.74" stroke="#111" stroke-width="0.8"/>
<text x="386.40" y="265.79" font-size="5.8" text-anchor="end" font-weight="bold" fill="#111" stroke="#111" stroke-width="0.12">2</text>
<line x1="387.40" y1="257.16" x2="390.40" y2="257.16" stroke="#111" stroke-width="0.8"/>
<text x="386.40" y="259.21" font-size="5.8" text-anchor="end" font-weight="bold" fill="#111" stroke="#111" stroke-width="0.12">3</text>
<line x1="387.40" y1="250.58" x2="390.40" y2="250.58" stroke="#111" stroke-width="0.8"/>
<text x="386.40" y="252.63" font-size="5.8" text-anchor="end" font-weight="bold" fill="#111" stroke="#111" stroke-width="0.12">4</text>
<line x1="387.40" y1="244.00" x2="390.40" y2="244.00" stroke="#111" stroke-width="0.8"/>
<text x="386.40" y="246.05" font-size="5.8" text-anchor="end" font-weight="bold" fill="#111" stroke="#111" stroke-width="0.12">5</text>
<line x1="398.60" y1="276.90" x2="398.60" y2="279.10" stroke="#111" stroke-width="0.8"/>
<line x1="412.00" y1="276.90" x2="412.00" y2="279.10" stroke="#111" stroke-width="0.8"/>
<line x1="425.40" y1="276.90" x2="425.40" y2="279.10" stroke="#111" stroke-width="0.8"/>
<line x1="438.80" y1="276.90" x2="438.80" y2="279.10" stroke="#111" stroke-width="0.8"/>
<line x1="452.20" y1="276.90" x2="452.20" y2="279.10" stroke="#111" stroke-width="0.8"/>
<line x1="465.60" y1="276.90" x2="465.60" y2="279.10" stroke="#111" stroke-width="0.8"/>
<text x="393.00" y="223.20" font-size="9" text-anchor="start" fill="#111" stroke="#111" stroke-width="0.12">CAL27</text>
<text x="412.00" y="259.80" font-size="4.5" text-anchor="middle" font-weight="bold" fill="#888">**</text>
<text x="425.40" y="246.00" font-size="4.5" text-anchor="middle" font-weight="bold" fill="#888">***</text>
<text x="452.20" y="215.00" font-size="4.5" text-anchor="middle" font-weight="bold" fill="#888">*</text>
<text x="465.60" y="210.00" font-size="4.5" text-anchor="middle" font-weight="bold" fill="#888">***</text>
<line x1="396.90" y1="352.00" x2="396.90" y2="349.25" stroke="#111" stroke-width="0.7"/>
<line x1="394.21" y1="349.25" x2="399.59" y2="349.25" stroke="#111" stroke-width="0.7"/>
<rect x="392.10" y="352.00" width="9.60" height="5.40" fill="#060606"/>
<line x1="410.37" y1="335.50" x2="410.37" y2="324.90" stroke="#111" stroke-width="0.7"/>
<line x1="407.68" y1="324.90" x2="413.06" y2="324.90" stroke="#111" stroke-width="0.7"/>
<rect x="405.57" y="335.50" width="9.60" height="21.90" fill="#060606"/>
<line x1="423.84" y1="331.10" x2="423.84" y2="326.10" stroke="#111" stroke-width="0.7"/>
<line x1="421.15" y1="326.10" x2="426.53" y2="326.10" stroke="#111" stroke-width="0.7"/>
<rect x="419.04" y="331.10" width="9.60" height="26.30" fill="#060606"/>
<line x1="437.31" y1="318.25" x2="437.31" y2="316.40" stroke="#8c8c8c" stroke-width="0.7"/>
<line x1="434.62" y1="316.40" x2="440.00" y2="316.40" stroke="#8c8c8c" stroke-width="0.7"/>
<rect x="432.51" y="318.25" width="9.60" height="39.15" fill="#767676"/>
<rect x="432.01" y="320.10" width="10.60" height="4.10" fill="#fff"/>
<line x1="450.78" y1="301.75" x2="450.78" y2="297.00" stroke="#8c8c8c" stroke-width="0.7"/>
<line x1="448.09" y1="297.00" x2="453.47" y2="297.00" stroke="#8c8c8c" stroke-width="0.7"/>
<rect x="445.98" y="301.75" width="9.60" height="55.65" fill="#767676"/>
<rect x="445.48" y="320.10" width="10.60" height="4.10" fill="#fff"/>
<line x1="464.25" y1="311.75" x2="464.25" y2="309.75" stroke="#8c8c8c" stroke-width="0.7"/>
<line x1="461.56" y1="309.75" x2="466.94" y2="309.75" stroke="#8c8c8c" stroke-width="0.7"/>
<rect x="459.45" y="311.75" width="9.60" height="45.65" fill="#767676"/>
<rect x="458.95" y="320.10" width="10.60" height="4.10" fill="#fff"/>
<line x1="387.90" y1="286.00" x2="387.90" y2="320.30" stroke="#111" stroke-width="0.9"/>
<line x1="387.90" y1="323.60" x2="387.90" y2="357.85" stroke="#111" stroke-width="0.9"/>
<line x1="386.40" y1="323.60" x2="389.40" y2="323.60" stroke="#111" stroke-width="0.8"/>
<line x1="386.40" y1="320.30" x2="389.40" y2="320.30" stroke="#111" stroke-width="0.8"/>
<line x1="387.45" y1="357.40" x2="473.70" y2="357.40" stroke="#111" stroke-width="0.9"/>
<line x1="384.90" y1="315.20" x2="387.90" y2="315.20" stroke="#111" stroke-width="0.8"/>
<text x="383.90" y="317.25" font-size="5.8" text-anchor="end" font-weight="bold" fill="#111" stroke="#111" stroke-width="0.12">2,000</text>
<line x1="384.90" y1="305.50" x2="387.90" y2="305.50" stroke="#111" stroke-width="0.8"/>
<text x="383.90" y="307.55" font-size="5.8" text-anchor="end" font-weight="bold" fill="#111" stroke="#111" stroke-width="0.12">4,000</text>
<line x1="384.90" y1="295.80" x2="387.90" y2="295.80" stroke="#111" stroke-width="0.8"/>
<text x="383.90" y="297.85" font-size="5.8" text-anchor="end" font-weight="bold" fill="#111" stroke="#111" stroke-width="0.12">6,000</text>
<line x1="384.90" y1="286.10" x2="387.90" y2="286.10" stroke="#111" stroke-width="0.8"/>
<text x="383.90" y="288.15" font-size="5.8" text-anchor="end" font-weight="bold" fill="#111" stroke="#111" stroke-width="0.12">8,000</text>
<line x1="384.90" y1="357.40" x2="387.90" y2="357.40" stroke="#111" stroke-width="0.8"/>
<text x="383.90" y="359.45" font-size="5.8" text-anchor="end" font-weight="bold" fill="#111" stroke="#111" stroke-width="0.12">0</text>
<line x1="384.90" y1="346.14" x2="387.90" y2="346.14" stroke="#111" stroke-width="0.8"/>
<text x="383.90" y="348.19" font-size="5.8" text-anchor="end" font-weight="bold" fill="#111" stroke="#111" stroke-width="0.12">2</text>
<line x1="384.90" y1="334.88" x2="387.90" y2="334.88" stroke="#111" stroke-width="0.8"/>
<text x="383.90" y="336.93" font-size="5.8" text-anchor="end" font-weight="bold" fill="#111" stroke="#111" stroke-width="0.12">4</text>
<line x1="384.90" y1="323.62" x2="387.90" y2="323.62" stroke="#111" stroke-width="0.8"/>
<text x="383.90" y="325.67" font-size="5.8" text-anchor="end" font-weight="bold" fill="#111" stroke="#111" stroke-width="0.12">6</text>
<line x1="396.90" y1="357.40" x2="396.90" y2="359.60" stroke="#111" stroke-width="0.8"/>
<line x1="410.37" y1="357.40" x2="410.37" y2="359.60" stroke="#111" stroke-width="0.8"/>
<line x1="423.84" y1="357.40" x2="423.84" y2="359.60" stroke="#111" stroke-width="0.8"/>
<line x1="437.31" y1="357.40" x2="437.31" y2="359.60" stroke="#111" stroke-width="0.8"/>
<line x1="450.78" y1="357.40" x2="450.78" y2="359.60" stroke="#111" stroke-width="0.8"/>
<line x1="464.25" y1="357.40" x2="464.25" y2="359.60" stroke="#111" stroke-width="0.8"/>
<text x="392.00" y="297.30" font-size="9" text-anchor="start" fill="#111" stroke="#111" stroke-width="0.12">CAL33</text>
<text transform="translate(398.10,363.50) rotate(-45)" font-size="5.9" text-anchor="end" font-weight="bold" fill="#111" stroke="#111" stroke-width="0.25">DMSO</text>
<text transform="translate(411.57,363.50) rotate(-45)" font-size="5.9" text-anchor="end" font-weight="bold" fill="#111" stroke="#111" stroke-width="0.25">GSK126</text>
<text transform="translate(425.04,363.50) rotate(-45)" font-size="5.9" text-anchor="end" font-weight="bold" fill="#111" stroke="#111" stroke-width="0.25">EPZ6438</text>
<text transform="translate(438.51,363.50) rotate(-45)" font-size="5.9" text-anchor="end" font-weight="bold" fill="#111" stroke="#111" stroke-width="0.25">DMSO</text>
<text transform="translate(451.98,363.50) rotate(-45)" font-size="5.9" text-anchor="end" font-weight="bold" fill="#111" stroke="#111" stroke-width="0.25">GSK126</text>
<text transform="translate(465.45,363.50) rotate(-45)" font-size="5.9" text-anchor="end" font-weight="bold" fill="#111" stroke="#111" stroke-width="0.25">EPZ6438</text>
<text x="410.37" y="324.30" font-size="4.5" text-anchor="middle" font-weight="bold" fill="#888">**</text>
<text x="423.84" y="325.00" font-size="4.5" text-anchor="middle" font-weight="bold" fill="#888">**</text>
<text x="450.78" y="296.20" font-size="4.5" text-anchor="middle" font-weight="bold" fill="#888">***</text>
<text x="464.25" y="309.00" font-size="4.5" text-anchor="middle" font-weight="bold" fill="#888">**</text>
<rect x="479.9" y="268.6" width="38.2" height="27.0" fill="#fff" stroke="#333" stroke-width="1.1"/>
<rect x="484.00" y="272.10" width="10.40" height="6.90" fill="#050505"/>
<rect x="484.00" y="286.80" width="10.40" height="6.90" fill="#a6a6a6"/>
<text x="497.00" y="277.30" font-size="6.5" text-anchor="start" font-weight="bold" fill="#111" stroke="#111" stroke-width="0.2">–IFNγ</text>
<text x="497.00" y="292.60" font-size="6.5" text-anchor="start" font-weight="bold" fill="#111" stroke="#111" stroke-width="0.2">+IFNγ</text>
</svg>
</body></html>
